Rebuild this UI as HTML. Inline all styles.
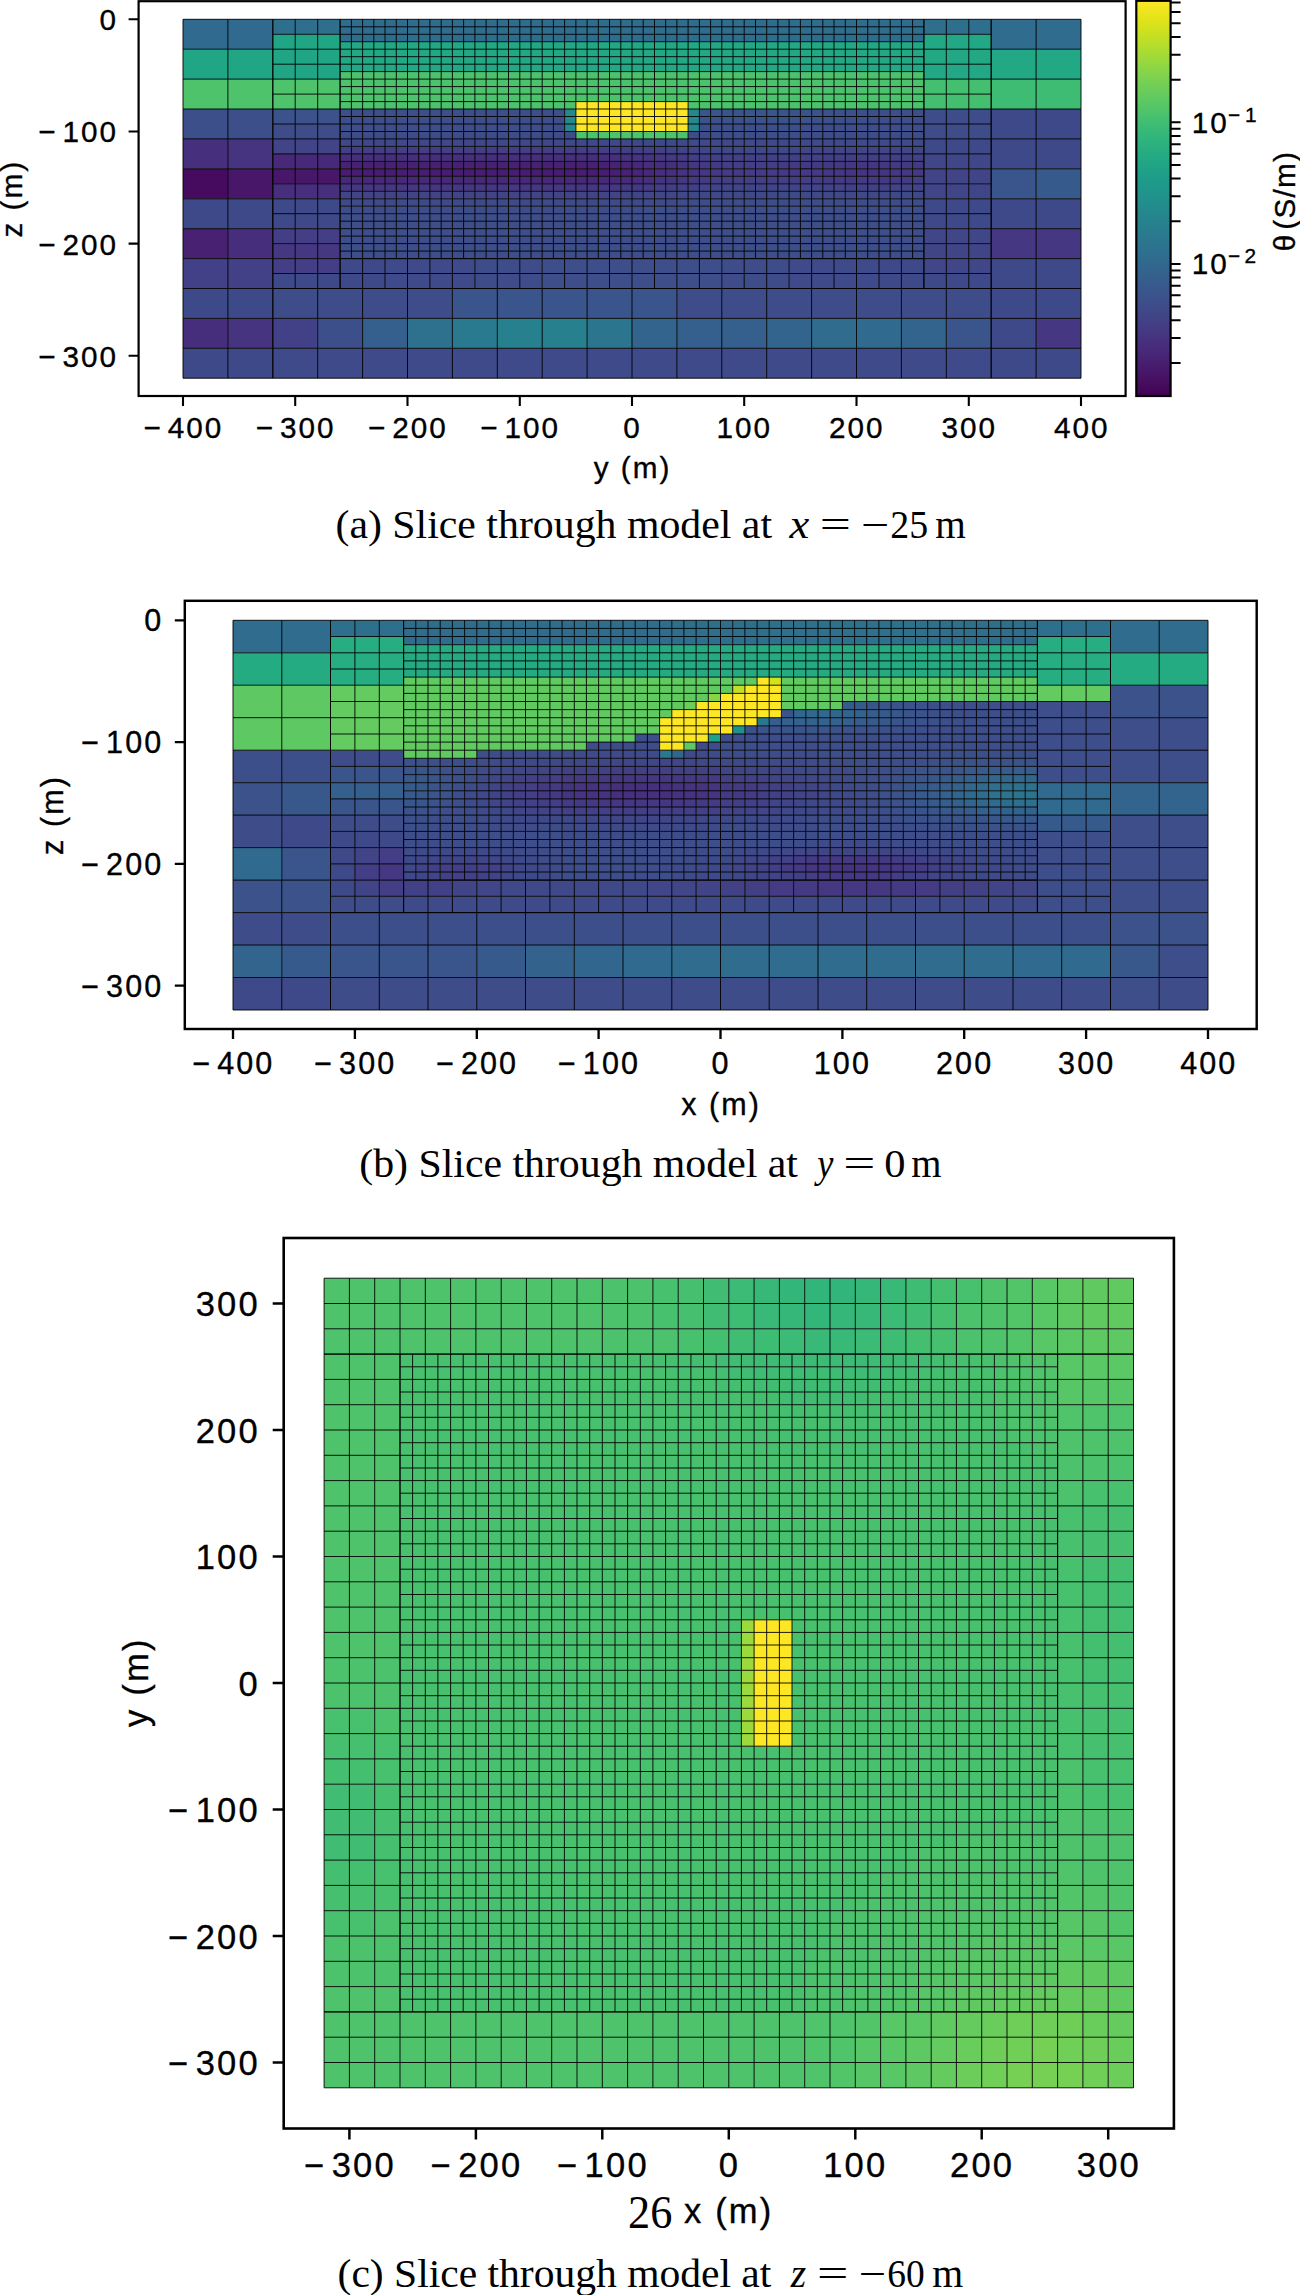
<!DOCTYPE html>
<html><head><meta charset="utf-8"><title>Model slices</title>
<style>html,body{margin:0;padding:0;background:#fff;overflow:hidden}svg{display:block}text{font-kerning:none}</style>
</head><body>
<svg width="1300" height="2295" viewBox="0 0 1300 2295">
<path fill="#306a8e" d="M183 19.3H272.8V49.2H183zM856.5 318.4H901.4V348.3H856.5z"/>
<path fill="#21a685" d="M183 49.2H272.8V79.1H183zM272.8 34.3H340.1V49.2H272.8zM272.8 49.2H340.1V64.2H272.8zM272.8 64.2H340.1V79.1H272.8z"/>
<path fill="#4ec36b" d="M183 79.1H272.8V109H183zM272.8 79.1H340.1V94.1H272.8zM272.8 94.1H340.1V109H272.8zM575.9 131.5H688.1V138.9H575.9z"/>
<path fill="#3c4f8a" d="M183 109H272.8V138.9H183zM317.7 318.4H362.6V348.3H317.7zM856.5 109H890.2V116.5H856.5zM845.3 116.5H879V124H845.3zM699.4 124H800.4V131.5H699.4z"/>
<path fill="#46307e" d="M183 138.9H227.9V168.8H183zM609.5 153.9H620.8V161.4H609.5zM665.7 161.4H676.9V168.8H665.7zM643.2 176.3H654.5V183.8H643.2z"/>
<path fill="#463480" d="M227.9 138.9H272.8V168.8H227.9zM227.9 318.4H272.8V348.3H227.9zM632 153.9H643.2V161.4H632zM676.9 161.4H688.1V168.8H676.9zM688.1 168.8H699.4V176.3H688.1z"/>
<path fill="#460b5e" d="M183 168.8H227.9V198.8H183z"/>
<path fill="#481769" d="M227.9 168.8H272.8V198.8H227.9zM272.8 168.8H340.1V183.8H272.8z"/>
<path fill="#3e4989" d="M183 198.8H272.8V228.7H183zM183 288.5H272.8V318.4H183zM183 348.3H272.8V378.2H183zM991.2 109H1081V138.9H991.2zM991.2 138.9H1081V168.8H991.2zM991.2 198.8H1081V228.7H991.2zM991.2 258.6H1081V288.5H991.2zM991.2 288.5H1081V318.4H991.2zM991.2 318.4H1036.1V348.3H991.2zM991.2 348.3H1081V378.2H991.2zM272.8 198.8H340.1V213.7H272.8zM272.8 213.7H340.1V228.7H272.8zM272.8 273.5H340.1V288.5H272.8zM923.9 138.9H991.2V153.9H923.9zM923.9 198.8H991.2V213.7H923.9zM923.9 213.7H991.2V228.7H923.9zM923.9 273.5H991.2V288.5H923.9zM643.2 138.9H688.1V146.4H643.2zM699.4 191.3H845.3V198.8H699.4zM890.2 191.3H923.9V198.8H890.2zM340.1 258.6H385V273.5H340.1zM879 258.6H923.9V273.5H879zM340.1 273.5H385V288.5H340.1zM879 273.5H923.9V288.5H879z"/>
<path fill="#482173" d="M183 228.7H227.9V258.6H183zM340.1 161.4H609.5V168.8H340.1z"/>
<path fill="#472e7c" d="M227.9 228.7H272.8V258.6H227.9zM183 318.4H227.9V348.3H183zM654.5 161.4H665.7V168.8H654.5zM632 176.3H643.2V183.8H632z"/>
<path fill="#424086" d="M183 258.6H272.8V288.5H183zM272.8 318.4H317.7V348.3H272.8zM632 146.4H643.2V153.9H632zM800.4 153.9H822.8V161.4H800.4zM912.6 153.9H923.9V161.4H912.6zM676.9 183.8H688.1V191.3H676.9z"/>
<path fill="#2f6c8e" d="M991.2 19.3H1081V49.2H991.2zM811.6 318.4H856.5V348.3H811.6z"/>
<path fill="#22a884" d="M991.2 49.2H1081V79.1H991.2zM923.9 34.3H991.2V49.2H923.9zM923.9 49.2H991.2V64.2H923.9zM923.9 64.2H991.2V79.1H923.9zM340.1 41.7H923.9V49.2H340.1zM340.1 49.2H923.9V56.7H340.1zM340.1 56.7H923.9V64.2H340.1zM340.1 64.2H923.9V71.6H340.1z"/>
<path fill="#3fbc73" d="M991.2 79.1H1081V109H991.2z"/>
<path fill="#3a548c" d="M991.2 168.8H1036.1V198.8H991.2zM452.4 288.5H676.9V318.4H452.4zM946.3 318.4H991.2V348.3H946.3zM699.4 109H721.8V116.5H699.4zM766.7 109H789.1V116.5H766.7z"/>
<path fill="#375a8c" d="M1036.1 168.8H1081V198.8H1036.1z"/>
<path fill="#453781" d="M991.2 228.7H1081V258.6H991.2zM1036.1 318.4H1081V348.3H1036.1zM272.8 243.6H340.1V258.6H272.8zM654.5 153.9H665.7V161.4H654.5zM688.1 161.4H699.4V168.8H688.1zM845.3 161.4H890.2V168.8H845.3zM699.4 168.8H710.6V176.3H699.4zM822.8 168.8H845.3V176.3H822.8zM890.2 168.8H912.6V176.3H890.2zM676.9 176.3H688.1V183.8H676.9zM340.1 183.8H620.8V191.3H340.1z"/>
<path fill="#2e6f8e" d="M272.8 19.3H340.1V34.3H272.8zM923.9 19.3H991.2V34.3H923.9z"/>
<path fill="#3b528b" d="M272.8 109H340.1V124H272.8zM811.6 109H834V116.5H811.6zM789.1 116.5H811.6V124H789.1z"/>
<path fill="#3e4c8a" d="M272.8 124H340.1V138.9H272.8zM923.9 109H991.2V124H923.9zM923.9 124H991.2V138.9H923.9zM272.8 288.5H452.4V318.4H272.8zM676.9 288.5H991.2V318.4H676.9zM340.1 131.5H575.9V138.9H340.1zM688.1 131.5H710.6V138.9H688.1zM800.4 131.5H923.9V138.9H800.4zM676.9 198.8H923.9V206.2H676.9zM340.1 206.2H643.2V213.7H340.1zM474.9 258.6H542.2V273.5H474.9zM721.8 258.6H789.1V273.5H721.8zM474.9 273.5H542.2V288.5H474.9zM721.8 273.5H789.1V288.5H721.8z"/>
<path fill="#414487" d="M272.8 138.9H340.1V153.9H272.8zM923.9 168.8H991.2V183.8H923.9zM665.7 146.4H676.9V153.9H665.7zM699.4 183.8H710.6V191.3H699.4zM800.4 183.8H845.3V191.3H800.4zM890.2 183.8H923.9V191.3H890.2zM340.1 191.3H620.8V198.8H340.1z"/>
<path fill="#482878" d="M272.8 153.9H340.1V168.8H272.8zM340.1 176.3H609.5V183.8H340.1z"/>
<path fill="#472f7d" d="M272.8 183.8H340.1V198.8H272.8zM340.1 153.9H609.5V161.4H340.1zM665.7 168.8H676.9V176.3H665.7z"/>
<path fill="#433e85" d="M272.8 228.7H340.1V243.6H272.8zM272.8 258.6H340.1V273.5H272.8zM340.1 146.4H609.5V153.9H340.1zM688.1 153.9H699.4V161.4H688.1zM721.8 161.4H777.9V168.8H721.8zM800.4 176.3H822.8V183.8H800.4zM912.6 176.3H923.9V183.8H912.6zM654.5 183.8H665.7V191.3H654.5z"/>
<path fill="#44bf70" d="M923.9 79.1H991.2V94.1H923.9zM923.9 94.1H991.2V109H923.9z"/>
<path fill="#404688" d="M923.9 153.9H991.2V168.8H923.9zM923.9 228.7H991.2V243.6H923.9zM923.9 258.6H991.2V273.5H923.9zM699.4 146.4H710.6V153.9H699.4zM800.4 146.4H923.9V153.9H800.4zM643.2 191.3H676.9V198.8H643.2z"/>
<path fill="#404588" d="M923.9 183.8H991.2V198.8H923.9zM923.9 243.6H991.2V258.6H923.9zM676.9 146.4H699.4V153.9H676.9zM710.6 183.8H800.4V191.3H710.6zM620.8 191.3H643.2V198.8H620.8z"/>
<path fill="#355f8d" d="M362.6 318.4H407.5V348.3H362.6zM676.9 318.4H766.7V348.3H676.9z"/>
<path fill="#2d718e" d="M407.5 318.4H452.4V348.3H407.5z"/>
<path fill="#297a8e" d="M452.4 318.4H497.3V348.3H452.4z"/>
<path fill="#27808e" d="M497.3 318.4H587.1V348.3H497.3z"/>
<path fill="#2b758e" d="M587.1 318.4H632V348.3H587.1z"/>
<path fill="#32648e" d="M632 318.4H676.9V348.3H632zM766.7 318.4H811.6V348.3H766.7zM901.4 318.4H946.3V348.3H901.4z"/>
<path fill="#3e4a89" d="M272.8 348.3H991.2V378.2H272.8zM688.1 138.9H923.9V146.4H688.1zM340.1 198.8H676.9V206.2H340.1zM385 258.6H474.9V273.5H385zM789.1 258.6H879V273.5H789.1zM385 273.5H474.9V288.5H385zM789.1 273.5H879V288.5H789.1z"/>
<path fill="#2e6d8e" d="M340.1 19.3H923.9V26.8H340.1zM340.1 26.8H923.9V34.3H340.1zM340.1 34.3H923.9V41.7H340.1z"/>
<path fill="#4cc26c" d="M340.1 71.6H923.9V79.1H340.1zM340.1 79.1H923.9V86.6H340.1zM340.1 86.6H923.9V94.1H340.1zM340.1 94.1H923.9V101.6H340.1zM340.1 101.6H575.9V109H340.1zM688.1 101.6H923.9V109H688.1z"/>
<path fill="#fde725" d="M575.9 101.6H688.1V109H575.9zM575.9 109H688.1V116.5H575.9zM575.9 116.5H688.1V124H575.9zM575.9 124H688.1V131.5H575.9z"/>
<path fill="#3d4e8a" d="M340.1 109H564.6V116.5H340.1zM890.2 109H923.9V116.5H890.2zM340.1 116.5H564.6V124H340.1zM879 116.5H923.9V124H879zM340.1 124H564.6V131.5H340.1zM800.4 124H923.9V131.5H800.4zM710.6 131.5H800.4V138.9H710.6zM643.2 206.2H923.9V213.7H643.2zM340.1 213.7H923.9V221.2H340.1zM340.1 221.2H923.9V228.7H340.1zM340.1 228.7H923.9V236.1H340.1zM340.1 236.1H923.9V243.6H340.1zM340.1 243.6H923.9V251.1H340.1zM340.1 251.1H923.9V258.6H340.1zM542.2 258.6H721.8V273.5H542.2zM542.2 273.5H721.8V288.5H542.2z"/>
<path fill="#23898e" d="M564.6 109H575.9V116.5H564.6zM688.1 109H699.4V116.5H688.1zM564.6 116.5H575.9V124H564.6zM688.1 116.5H699.4V124H688.1zM564.6 124H575.9V131.5H564.6zM688.1 124H699.4V131.5H688.1z"/>
<path fill="#39558c" d="M721.8 109H766.7V116.5H721.8z"/>
<path fill="#3a538b" d="M789.1 109H811.6V116.5H789.1zM699.4 116.5H789.1V124H699.4z"/>
<path fill="#3c508b" d="M834 109H856.5V116.5H834zM811.6 116.5H845.3V124H811.6z"/>
<path fill="#3f4889" d="M340.1 138.9H643.2V146.4H340.1zM710.6 146.4H800.4V153.9H710.6zM676.9 191.3H699.4V198.8H676.9zM845.3 191.3H890.2V198.8H845.3z"/>
<path fill="#423f85" d="M609.5 146.4H632V153.9H609.5zM699.4 153.9H710.6V161.4H699.4zM822.8 153.9H912.6V161.4H822.8zM710.6 176.3H800.4V183.8H710.6zM665.7 183.8H676.9V191.3H665.7z"/>
<path fill="#424186" d="M643.2 146.4H665.7V153.9H643.2zM710.6 153.9H800.4V161.4H710.6zM688.1 183.8H699.4V191.3H688.1zM845.3 183.8H890.2V191.3H845.3z"/>
<path fill="#46337f" d="M620.8 153.9H632V161.4H620.8zM676.9 168.8H688.1V176.3H676.9zM654.5 176.3H665.7V183.8H654.5z"/>
<path fill="#453581" d="M643.2 153.9H654.5V161.4H643.2zM845.3 168.8H890.2V176.3H845.3zM665.7 176.3H676.9V183.8H665.7z"/>
<path fill="#443a83" d="M665.7 153.9H676.9V161.4H665.7zM800.4 161.4H822.8V168.8H800.4zM912.6 161.4H923.9V168.8H912.6zM710.6 168.8H721.8V176.3H710.6zM777.9 168.8H811.6V176.3H777.9zM688.1 176.3H699.4V183.8H688.1zM845.3 176.3H890.2V183.8H845.3zM632 183.8H643.2V191.3H632z"/>
<path fill="#443b84" d="M676.9 153.9H688.1V161.4H676.9zM710.6 161.4H721.8V168.8H710.6zM777.9 161.4H800.4V168.8H777.9zM721.8 168.8H777.9V176.3H721.8zM699.4 176.3H710.6V183.8H699.4zM822.8 176.3H845.3V183.8H822.8zM890.2 176.3H912.6V183.8H890.2zM643.2 183.8H654.5V191.3H643.2z"/>
<path fill="#482374" d="M609.5 161.4H620.8V168.8H609.5zM620.8 168.8H632V176.3H620.8z"/>
<path fill="#482576" d="M620.8 161.4H632V168.8H620.8zM632 168.8H643.2V176.3H632z"/>
<path fill="#482979" d="M632 161.4H643.2V168.8H632zM643.2 168.8H654.5V176.3H643.2zM609.5 176.3H620.8V183.8H609.5z"/>
<path fill="#472d7b" d="M643.2 161.4H654.5V168.8H643.2zM654.5 168.8H665.7V176.3H654.5z"/>
<path fill="#443983" d="M699.4 161.4H710.6V168.8H699.4zM822.8 161.4H845.3V168.8H822.8zM890.2 161.4H912.6V168.8H890.2zM811.6 168.8H822.8V176.3H811.6zM912.6 168.8H923.9V176.3H912.6zM620.8 183.8H632V191.3H620.8z"/>
<path fill="#481d6f" d="M340.1 168.8H609.5V176.3H340.1z"/>
<path fill="#481f70" d="M609.5 168.8H620.8V176.3H609.5z"/>
<path fill="#472a7a" d="M620.8 176.3H632V183.8H620.8z"/>
<path fill="none" stroke="#000" stroke-width="0.9" d="M183 19.3V378.2M227.9 19.3V378.2M272.8 19.3V378.2M183 19.3H272.8M183 49.2H272.8M183 79.1H272.8M183 109H272.8M183 138.9H272.8M183 168.8H272.8M183 198.8H272.8M183 228.7H272.8M183 258.6H272.8M183 288.5H272.8M183 318.4H272.8M183 348.3H272.8M183 378.2H272.8M991.2 19.3V378.2M1036.1 19.3V378.2M1081 19.3V378.2M991.2 19.3H1081M991.2 49.2H1081M991.2 79.1H1081M991.2 109H1081M991.2 138.9H1081M991.2 168.8H1081M991.2 198.8H1081M991.2 228.7H1081M991.2 258.6H1081M991.2 288.5H1081M991.2 318.4H1081M991.2 348.3H1081M991.2 378.2H1081M272.8 19.3V288.5M295.2 19.3V288.5M317.7 19.3V288.5M340.1 19.3V288.5M272.8 19.3H340.1M272.8 34.3H340.1M272.8 49.2H340.1M272.8 64.2H340.1M272.8 79.1H340.1M272.8 94.1H340.1M272.8 109H340.1M272.8 124H340.1M272.8 138.9H340.1M272.8 153.9H340.1M272.8 168.8H340.1M272.8 183.8H340.1M272.8 198.8H340.1M272.8 213.7H340.1M272.8 228.7H340.1M272.8 243.6H340.1M272.8 258.6H340.1M272.8 273.5H340.1M272.8 288.5H340.1M923.9 19.3V288.5M946.3 19.3V288.5M968.8 19.3V288.5M991.2 19.3V288.5M923.9 19.3H991.2M923.9 34.3H991.2M923.9 49.2H991.2M923.9 64.2H991.2M923.9 79.1H991.2M923.9 94.1H991.2M923.9 109H991.2M923.9 124H991.2M923.9 138.9H991.2M923.9 153.9H991.2M923.9 168.8H991.2M923.9 183.8H991.2M923.9 198.8H991.2M923.9 213.7H991.2M923.9 228.7H991.2M923.9 243.6H991.2M923.9 258.6H991.2M923.9 273.5H991.2M923.9 288.5H991.2M272.8 288.5V378.2M317.7 288.5V378.2M362.6 288.5V378.2M407.5 288.5V378.2M452.4 288.5V378.2M497.3 288.5V378.2M542.2 288.5V378.2M587.1 288.5V378.2M632 288.5V378.2M676.9 288.5V378.2M721.8 288.5V378.2M766.7 288.5V378.2M811.6 288.5V378.2M856.5 288.5V378.2M901.4 288.5V378.2M946.3 288.5V378.2M991.2 288.5V378.2M272.8 288.5H991.2M272.8 318.4H991.2M272.8 348.3H991.2M272.8 378.2H991.2M340.1 19.3V258.6M351.4 19.3V258.6M362.6 19.3V258.6M373.8 19.3V258.6M385 19.3V258.6M396.3 19.3V258.6M407.5 19.3V258.6M418.7 19.3V258.6M429.9 19.3V258.6M441.2 19.3V258.6M452.4 19.3V258.6M463.6 19.3V258.6M474.9 19.3V258.6M486.1 19.3V258.6M497.3 19.3V258.6M508.5 19.3V258.6M519.8 19.3V258.6M531 19.3V258.6M542.2 19.3V258.6M553.4 19.3V258.6M564.6 19.3V258.6M575.9 19.3V258.6M587.1 19.3V258.6M598.3 19.3V258.6M609.5 19.3V258.6M620.8 19.3V258.6M632 19.3V258.6M643.2 19.3V258.6M654.5 19.3V258.6M665.7 19.3V258.6M676.9 19.3V258.6M688.1 19.3V258.6M699.4 19.3V258.6M710.6 19.3V258.6M721.8 19.3V258.6M733 19.3V258.6M744.2 19.3V258.6M755.5 19.3V258.6M766.7 19.3V258.6M777.9 19.3V258.6M789.1 19.3V258.6M800.4 19.3V258.6M811.6 19.3V258.6M822.8 19.3V258.6M834 19.3V258.6M845.3 19.3V258.6M856.5 19.3V258.6M867.7 19.3V258.6M879 19.3V258.6M890.2 19.3V258.6M901.4 19.3V258.6M912.6 19.3V258.6M923.9 19.3V258.6M340.1 19.3H923.9M340.1 26.8H923.9M340.1 34.3H923.9M340.1 41.7H923.9M340.1 49.2H923.9M340.1 56.7H923.9M340.1 64.2H923.9M340.1 71.6H923.9M340.1 79.1H923.9M340.1 86.6H923.9M340.1 94.1H923.9M340.1 101.6H923.9M340.1 109H923.9M340.1 116.5H923.9M340.1 124H923.9M340.1 131.5H923.9M340.1 138.9H923.9M340.1 146.4H923.9M340.1 153.9H923.9M340.1 161.4H923.9M340.1 168.8H923.9M340.1 176.3H923.9M340.1 183.8H923.9M340.1 191.3H923.9M340.1 198.8H923.9M340.1 206.2H923.9M340.1 213.7H923.9M340.1 221.2H923.9M340.1 228.7H923.9M340.1 236.1H923.9M340.1 243.6H923.9M340.1 251.1H923.9M340.1 258.6H923.9M340.1 258.6V288.5M362.6 258.6V288.5M385 258.6V288.5M407.5 258.6V288.5M429.9 258.6V288.5M452.4 258.6V288.5M474.9 258.6V288.5M497.3 258.6V288.5M519.8 258.6V288.5M542.2 258.6V288.5M564.6 258.6V288.5M587.1 258.6V288.5M609.5 258.6V288.5M632 258.6V288.5M654.5 258.6V288.5M676.9 258.6V288.5M699.4 258.6V288.5M721.8 258.6V288.5M744.2 258.6V288.5M766.7 258.6V288.5M789.1 258.6V288.5M811.6 258.6V288.5M834 258.6V288.5M856.5 258.6V288.5M879 258.6V288.5M901.4 258.6V288.5M923.9 258.6V288.5M340.1 258.6H923.9M340.1 273.5H923.9M340.1 288.5H923.9"/>
<rect x="138.6" y="1.2" width="987" height="394.8" fill="none" stroke="#000" stroke-width="2.2"/>
<path stroke="#000" stroke-width="2.09" d="M183 396V406M295.2 396V406M407.5 396V406M519.8 396V406M632 396V406M744.2 396V406M856.5 396V406M968.8 396V406M1081 396V406M138.6 19.3H128.6M138.6 131.5H128.6M138.6 243.6H128.6M138.6 355.8H128.6"/>
<g font-family="Liberation Sans, Arial, sans-serif" font-size="29.7" letter-spacing="2.0" stroke="#000" stroke-width="0.35">
<text x="143.5" y="438.3">−<tspan dx="4.8">400</tspan></text>
<text x="255.75" y="438.3">−<tspan dx="4.8">300</tspan></text>
<text x="368" y="438.3">−<tspan dx="4.8">200</tspan></text>
<text x="480.25" y="438.3">−<tspan dx="4.8">100</tspan></text>
<text x="623.24" y="438.3">0</text>
<text x="716.42" y="438.3">100</text>
<text x="829.06" y="438.3">200</text>
<text x="941.49" y="438.3">300</text>
<text x="1053.96" y="438.3">400</text>
<text x="99.44" y="30.22">0</text>
<text x="38.26" y="142.38">−<tspan dx="4.8">100</tspan></text>
<text x="38.26" y="254.54">−<tspan dx="4.8">200</tspan></text>
<text x="38.26" y="366.7">−<tspan dx="4.8">300</tspan></text>
<text x="593.73" y="477.7">y (m)</text>
<text transform="translate(21.5 200) rotate(-90)" x="-37.49">z (m)</text>
</g>
<defs><linearGradient id="cb" x1="0" y1="0" x2="0" y2="1"><stop offset="0%" stop-color="#fde725"/><stop offset="5%" stop-color="#dfe318"/><stop offset="10%" stop-color="#bddf26"/><stop offset="15%" stop-color="#9bd93c"/><stop offset="20%" stop-color="#7ad151"/><stop offset="25%" stop-color="#5ec962"/><stop offset="30%" stop-color="#44bf70"/><stop offset="35%" stop-color="#2fb47c"/><stop offset="40%" stop-color="#22a884"/><stop offset="45%" stop-color="#1e9c89"/><stop offset="50%" stop-color="#21918c"/><stop offset="55%" stop-color="#25848e"/><stop offset="60%" stop-color="#2a788e"/><stop offset="65%" stop-color="#2f6c8e"/><stop offset="70%" stop-color="#355f8d"/><stop offset="75%" stop-color="#3b528b"/><stop offset="80%" stop-color="#414487"/><stop offset="85%" stop-color="#463480"/><stop offset="90%" stop-color="#482475"/><stop offset="95%" stop-color="#471365"/><stop offset="100%" stop-color="#440154"/></linearGradient></defs>
<rect x="1136.3" y="0.8" width="34.3" height="395.2" fill="url(#cb)" stroke="#000" stroke-width="2.2"/>
<path stroke="#000" stroke-width="2" d="M1170.6 122.3H1180.6M1170.6 79.7H1180.6M1170.6 54.7H1180.6M1170.6 37H1180.6M1170.6 23.3H1180.6M1170.6 12.1H1180.6M1170.6 2.6H1180.6M1170.6 263.9H1180.6M1170.6 221.3H1180.6M1170.6 196.3H1180.6M1170.6 178.6H1180.6M1170.6 164.9H1180.6M1170.6 153.7H1180.6M1170.6 144.2H1180.6M1170.6 136H1180.6M1170.6 128.8H1180.6M1170.6 362.9H1180.6M1170.6 337.9H1180.6M1170.6 320.2H1180.6M1170.6 306.5H1180.6M1170.6 295.3H1180.6M1170.6 285.8H1180.6M1170.6 277.6H1180.6M1170.6 270.4H1180.6"/>
<g font-family="Liberation Sans, Arial, sans-serif" stroke="#000" stroke-width="0.35">
<text x="1191.64" y="132.7" font-size="29.7" letter-spacing="2.0">10</text>
<text x="1227.97" y="121.9" font-size="20.8">−</text>
<text x="1244.92" y="121.9" font-size="20.8">1</text>
<text x="1191.64" y="274" font-size="29.7" letter-spacing="2.0">10</text>
<text x="1227.97" y="262.7" font-size="20.8">−</text>
<text x="1244.55" y="262.7" font-size="20.8">2</text>
<text transform="translate(1294.6 201.75) rotate(-90)" x="-49.42" font-size="29.7" letter-spacing="1.3">θ<tspan dx="-6"> (S/m)</tspan></text>
</g>
<g font-family="Liberation Serif, Times New Roman, serif" font-size="40">
<text x="335.46" y="538.1" textLength="436.58" lengthAdjust="spacingAndGlyphs">(a) Slice through model at</text>
<text x="789.64" y="538.1" textLength="19.78" lengthAdjust="spacingAndGlyphs" font-style="italic">x</text>
<text x="819.85" y="538.1" textLength="31.15" lengthAdjust="spacingAndGlyphs">=</text>
<text x="861.11" y="538.1" textLength="28.24" lengthAdjust="spacingAndGlyphs">−</text>
<text x="890.34" y="538.1" textLength="37.84" lengthAdjust="spacingAndGlyphs">25</text>
<text x="935.18" y="538.1" textLength="30.54" lengthAdjust="spacingAndGlyphs">m</text>
</g>
<path fill="#2f6c8e" d="M233 620.3H330.5V652.8H233zM1110.5 620.3H1208V652.8H1110.5zM671.8 945H1013V977.5H671.8z"/>
<path fill="#25ab82" d="M233 652.8H330.5V685.2H233zM1110.5 652.8H1208V685.2H1110.5zM403.6 644.7H1037.4V652.8H403.6zM403.6 652.8H1037.4V660.9H403.6zM403.6 660.9H1037.4V669H403.6zM403.6 669H1037.4V677.1H403.6z"/>
<path fill="#5ec962" d="M233 685.2H330.5V717.7H233zM233 717.7H330.5V750.2H233zM683.9 742.1H696.1V750.2H683.9z"/>
<path fill="#3c4f8a" d="M233 750.2H330.5V782.7H233zM330.5 912.6H1110.5V945H330.5zM927.7 701.5H952.1V709.6H927.7zM939.9 709.6H964.2V717.7H939.9zM939.9 717.7H964.2V725.8H939.9zM903.3 725.8H927.7V734H903.3zM805.8 734H842.4V742.1H805.8zM927.7 750.2H1037.4V758.3H927.7zM440.2 758.3H464.6V766.4H440.2zM903.3 758.3H927.7V766.4H903.3zM452.4 766.4H464.6V774.6H452.4zM891.1 766.4H903.3V774.6H891.1zM452.4 774.6H464.6V782.7H452.4zM878.9 774.6H891.1V782.7H878.9zM452.4 782.7H464.6V790.8H452.4zM878.9 782.7H891.1V790.8H878.9zM452.4 790.8H464.6V798.9H452.4zM878.9 798.9H891.1V807H878.9zM440.2 807H452.4V815.1H440.2zM878.9 807H891.1V815.1H878.9zM415.8 815.1H440.2V823.3H415.8zM891.1 815.1H903.3V823.3H891.1zM403.6 823.3H415.8V831.4H403.6zM903.3 823.3H952.1V831.4H903.3zM964.2 831.4H1037.4V839.5H964.2z"/>
<path fill="#3b528b" d="M233 782.7H281.8V815.1H233zM233 880.1H330.5V912.6H233zM1110.5 685.2H1208V717.7H1110.5zM1110.5 912.6H1208V945H1110.5zM903.3 701.5H915.5V709.6H903.3zM781.4 709.6H793.6V717.7H781.4zM915.5 709.6H927.7V717.7H915.5zM915.5 717.7H927.7V725.8H915.5zM757.1 725.8H781.4V734H757.1zM854.6 725.8H878.9V734H854.6zM403.6 758.3H428V766.4H403.6zM952.1 758.3H976.4V766.4H952.1zM915.5 766.4H927.7V774.6H915.5zM440.2 774.6H452.4V782.7H440.2zM440.2 782.7H452.4V790.8H440.2zM891.1 782.7H903.3V790.8H891.1zM440.2 790.8H452.4V798.9H440.2zM891.1 798.9H903.3V807H891.1zM403.6 807H428V815.1H403.6zM903.3 807H915.5V815.1H903.3zM927.7 815.1H939.9V823.3H927.7zM988.6 823.3H1037.4V831.4H988.6z"/>
<path fill="#38588c" d="M281.8 782.7H330.5V815.1H281.8zM1110.5 945H1159.2V977.5H1110.5zM891.1 709.6H903.3V717.7H891.1zM878.9 717.7H891.1V725.8H878.9zM415.8 774.6H428V782.7H415.8zM927.7 774.6H939.9V782.7H927.7zM415.8 790.8H428V798.9H415.8zM915.5 798.9H927.7V807H915.5zM988.6 815.1H1000.8V823.3H988.6z"/>
<path fill="#3e4c8a" d="M233 815.1H281.8V847.6H233zM233 912.6H330.5V945H233zM1159.2 977.5H1208V1010H1159.2zM330.5 750.2H403.6V766.4H330.5zM330.5 815.1H403.6V831.4H330.5zM330.5 896.3H403.6V912.6H330.5zM330.5 977.5H1110.5V1010H330.5zM586.4 742.1H659.6V750.2H586.4zM696.1 742.1H720.5V750.2H696.1zM488.9 750.2H562.1V758.3H488.9zM720.5 750.2H818V758.3H720.5zM476.8 758.3H501.1V766.4H476.8zM805.8 758.3H854.6V766.4H805.8zM842.4 766.4H866.7V774.6H842.4zM464.6 774.6H476.8V782.7H464.6zM854.6 774.6H866.7V782.7H854.6zM854.6 782.7H866.7V790.8H854.6zM854.6 790.8H866.7V798.9H854.6zM854.6 798.9H866.7V807H854.6zM464.6 807H476.8V815.1H464.6zM842.4 807H866.7V815.1H842.4zM464.6 815.1H488.9V823.3H464.6zM805.8 815.1H854.6V823.3H805.8zM476.8 823.3H562.1V831.4H476.8zM720.5 823.3H818V831.4H720.5zM562.1 831.4H744.9V839.5H562.1zM415.8 839.5H525.5V847.6H415.8zM732.7 839.5H818V847.6H732.7zM891.1 839.5H952.1V847.6H891.1zM403.6 847.6H415.8V855.7H403.6zM513.3 847.6H549.9V855.7H513.3zM683.9 847.6H732.7V855.7H683.9zM976.4 847.6H1013V855.7H976.4zM537.7 855.7H562.1V863.9H537.7zM659.6 855.7H696.1V863.9H659.6zM1013 855.7H1037.4V863.9H1013zM549.9 863.9H574.3V872H549.9zM659.6 863.9H696.1V872H659.6zM1013 863.9H1037.4V872H1013zM549.9 872H562.1V880.1H549.9zM671.8 872H696.1V880.1H671.8zM1013 872H1037.4V880.1H1013z"/>
<path fill="#3e4989" d="M281.8 815.1H330.5V847.6H281.8zM233 977.5H330.5V1010H233zM330.5 831.4H403.6V847.6H330.5zM330.5 847.6H354.9V863.9H330.5zM330.5 863.9H354.9V880.1H330.5zM330.5 880.1H354.9V896.3H330.5zM525.5 758.3H549.9V766.4H525.5zM732.7 758.3H769.2V766.4H732.7zM488.9 766.4H501.1V774.6H488.9zM793.6 766.4H818V774.6H793.6zM476.8 774.6H488.9V782.7H476.8zM830.2 774.6H842.4V782.7H830.2zM830.2 782.7H842.4V790.8H830.2zM830.2 790.8H842.4V798.9H830.2zM476.8 798.9H488.9V807H476.8zM830.2 798.9H842.4V807H830.2zM488.9 807H501.1V815.1H488.9zM793.6 807H818V815.1H793.6zM513.3 815.1H549.9V823.3H513.3zM732.7 815.1H769.2V823.3H732.7zM428 847.6H501.1V855.7H428zM757.1 847.6H769.2V855.7H757.1zM939.9 847.6H952.1V855.7H939.9zM403.6 855.7H415.8V863.9H403.6zM513.3 855.7H525.5V863.9H513.3zM720.5 855.7H732.7V863.9H720.5zM976.4 855.7H988.6V863.9H976.4zM525.5 863.9H537.7V872H525.5zM708.3 863.9H720.5V872H708.3zM988.6 863.9H1000.8V872H988.6zM525.5 872H537.7V880.1H525.5zM720.5 872H732.7V880.1H720.5zM976.4 872H988.6V880.1H976.4z"/>
<path fill="#306a8e" d="M233 847.6H281.8V880.1H233zM1037.4 782.7H1110.5V798.9H1037.4zM1037.4 798.9H1110.5V815.1H1037.4zM623 945H671.8V977.5H623zM1013 945H1110.5V977.5H1013zM964.2 790.8H976.4V798.9H964.2z"/>
<path fill="#3a548c" d="M281.8 847.6H330.5V880.1H281.8zM330.5 766.4H403.6V782.7H330.5zM330.5 798.9H403.6V815.1H330.5zM330.5 945H476.8V977.5H330.5zM878.9 701.5H891.1V709.6H878.9zM903.3 709.6H915.5V717.7H903.3zM891.1 717.7H903.3V725.8H891.1zM805.8 725.8H830.2V734H805.8zM403.6 766.4H428V774.6H403.6zM939.9 766.4H952.1V774.6H939.9zM428 774.6H440.2V782.7H428zM915.5 774.6H927.7V782.7H915.5zM903.3 782.7H915.5V790.8H903.3zM428 790.8H440.2V798.9H428zM415.8 798.9H428V807H415.8zM903.3 798.9H915.5V807H903.3zM952.1 815.1H964.2V823.3H952.1z"/>
<path fill="#32648e" d="M233 945H281.8V977.5H233zM1110.5 782.7H1208V815.1H1110.5zM842.4 709.6H854.6V717.7H842.4z"/>
<path fill="#375a8c" d="M281.8 945H330.5V977.5H281.8zM1037.4 815.1H1110.5V831.4H1037.4zM476.8 945H525.5V977.5H476.8zM842.4 701.5H854.6V709.6H842.4zM878.9 709.6H891.1V717.7H878.9zM866.7 717.7H878.9V725.8H866.7zM976.4 766.4H988.6V774.6H976.4zM939.9 774.6H952.1V782.7H939.9zM403.6 782.7H415.8V790.8H403.6zM927.7 798.9H939.9V807H927.7zM952.1 807H964.2V815.1H952.1z"/>
<path fill="#3d4e8a" d="M1110.5 717.7H1208V750.2H1110.5zM1110.5 750.2H1208V782.7H1110.5zM1110.5 815.1H1208V847.6H1110.5zM1110.5 847.6H1208V880.1H1110.5zM1110.5 880.1H1208V912.6H1110.5zM1159.2 945H1208V977.5H1159.2zM1110.5 977.5H1159.2V1010H1110.5zM1037.4 701.5H1110.5V717.7H1037.4zM1037.4 717.7H1110.5V734H1037.4zM1037.4 734H1110.5V750.2H1037.4zM1037.4 750.2H1110.5V766.4H1037.4zM1037.4 766.4H1110.5V782.7H1037.4zM1037.4 831.4H1110.5V847.6H1037.4zM1037.4 847.6H1110.5V863.9H1037.4zM1037.4 863.9H1110.5V880.1H1037.4zM1037.4 880.1H1110.5V896.3H1037.4zM1037.4 896.3H1110.5V912.6H1037.4zM952.1 701.5H1037.4V709.6H952.1zM964.2 709.6H1037.4V717.7H964.2zM964.2 717.7H1037.4V725.8H964.2zM927.7 725.8H1037.4V734H927.7zM635.2 734H659.6V742.1H635.2zM720.5 734H805.8V742.1H720.5zM842.4 734H1037.4V742.1H842.4zM720.5 742.1H1037.4V750.2H720.5zM476.8 750.2H488.9V758.3H476.8zM818 750.2H927.7V758.3H818zM464.6 758.3H476.8V766.4H464.6zM854.6 758.3H903.3V766.4H854.6zM464.6 766.4H476.8V774.6H464.6zM866.7 766.4H891.1V774.6H866.7zM866.7 774.6H878.9V782.7H866.7zM866.7 782.7H878.9V790.8H866.7zM866.7 790.8H878.9V798.9H866.7zM452.4 798.9H464.6V807H452.4zM866.7 798.9H878.9V807H866.7zM452.4 807H464.6V815.1H452.4zM866.7 807H878.9V815.1H866.7zM440.2 815.1H464.6V823.3H440.2zM854.6 815.1H891.1V823.3H854.6zM415.8 823.3H476.8V831.4H415.8zM818 823.3H903.3V831.4H818zM403.6 831.4H562.1V839.5H403.6zM744.9 831.4H964.2V839.5H744.9zM403.6 839.5H415.8V847.6H403.6zM525.5 839.5H732.7V847.6H525.5zM952.1 839.5H1037.4V847.6H952.1zM549.9 847.6H683.9V855.7H549.9zM1013 847.6H1037.4V855.7H1013zM562.1 855.7H659.6V863.9H562.1zM574.3 863.9H659.6V872H574.3zM562.1 872H671.8V880.1H562.1z"/>
<path fill="#2e6f8e" d="M330.5 620.3H403.6V636.5H330.5zM1037.4 620.3H1110.5V636.5H1037.4zM671.8 620.3H732.7V628.4H671.8zM1000.8 620.3H1037.4V628.4H1000.8zM671.8 628.4H732.7V636.5H671.8zM1000.8 628.4H1037.4V636.5H1000.8zM671.8 636.5H732.7V644.7H671.8zM1000.8 636.5H1037.4V644.7H1000.8zM988.6 782.7H1000.8V790.8H988.6zM1013 798.9H1037.4V807H1013z"/>
<path fill="#26ad81" d="M330.5 636.5H403.6V652.8H330.5zM330.5 652.8H403.6V669H330.5zM330.5 669H403.6V685.2H330.5zM1037.4 636.5H1110.5V652.8H1037.4zM1037.4 652.8H1110.5V669H1037.4zM1037.4 669H1110.5V685.2H1037.4z"/>
<path fill="#63cb5f" d="M330.5 685.2H403.6V701.5H330.5zM330.5 701.5H403.6V717.7H330.5zM330.5 717.7H403.6V734H330.5zM330.5 734H403.6V750.2H330.5zM1037.4 685.2H1110.5V701.5H1037.4z"/>
<path fill="#355f8d" d="M330.5 782.7H403.6V798.9H330.5zM781.4 717.7H793.6V725.8H781.4zM842.4 717.7H854.6V725.8H842.4zM939.9 782.7H952.1V790.8H939.9zM976.4 807H988.6V815.1H976.4z"/>
<path fill="#414487" d="M354.9 847.6H379.3V863.9H354.9zM354.9 880.1H379.3V896.3H354.9zM537.7 766.4H562.1V774.6H537.7zM720.5 766.4H744.9V774.6H720.5zM769.2 774.6H781.4V782.7H769.2zM793.6 782.7H805.8V790.8H793.6zM793.6 790.8H805.8V798.9H793.6zM501.1 798.9H513.3V807H501.1zM769.2 798.9H781.4V807H769.2zM537.7 807H562.1V815.1H537.7zM720.5 807H744.9V815.1H720.5zM452.4 855.7H476.8V863.9H452.4zM744.9 863.9H757.1V872H744.9zM952.1 863.9H964.2V872H952.1zM428 872H440.2V880.1H428zM488.9 872H501.1V880.1H488.9zM769.2 872H781.4V880.1H769.2zM927.7 872H939.9V880.1H927.7zM452.4 880.1H476.8V896.3H452.4zM696.1 880.1H720.5V896.3H696.1zM988.6 880.1H1013V896.3H988.6z"/>
<path fill="#433e85" d="M379.3 847.6H403.6V863.9H379.3zM354.9 863.9H379.3V880.1H354.9zM379.3 880.1H403.6V896.3H379.3zM549.9 774.6H562.1V782.7H549.9zM720.5 774.6H732.7V782.7H720.5zM525.5 782.7H537.7V790.8H525.5zM525.5 790.8H537.7V798.9H525.5zM549.9 798.9H562.1V807H549.9zM720.5 798.9H732.7V807H720.5zM793.6 855.7H805.8V863.9H793.6zM903.3 855.7H915.5V863.9H903.3zM805.8 872H818V880.1H805.8zM891.1 872H903.3V880.1H891.1z"/>
<path fill="#453781" d="M379.3 863.9H403.6V880.1H379.3zM598.6 774.6H683.9V782.7H598.6zM598.6 798.9H683.9V807H598.6zM805.8 863.9H818V872H805.8zM891.1 863.9H903.3V872H891.1zM818 880.1H891.1V896.3H818z"/>
<path fill="#33628d" d="M525.5 945H574.3V977.5H525.5zM854.6 709.6H866.7V717.7H854.6zM805.8 717.7H830.2V725.8H805.8zM952.1 798.9H964.2V807H952.1zM1000.8 807H1013V815.1H1000.8z"/>
<path fill="#31678e" d="M574.3 945H623V977.5H574.3zM793.6 709.6H805.8V717.7H793.6zM830.2 709.6H842.4V717.7H830.2zM671.8 750.2H683.9V758.3H671.8zM1000.8 774.6H1037.4V782.7H1000.8z"/>
<path fill="#2e6d8e" d="M403.6 620.3H671.8V628.4H403.6zM403.6 628.4H671.8V636.5H403.6zM403.6 636.5H671.8V644.7H403.6zM976.4 790.8H988.6V798.9H976.4zM1000.8 798.9H1013V807H1000.8z"/>
<path fill="#2d708e" d="M732.7 620.3H769.2V628.4H732.7zM964.2 620.3H1000.8V628.4H964.2zM732.7 628.4H769.2V636.5H732.7zM964.2 628.4H1000.8V636.5H964.2zM732.7 636.5H769.2V644.7H732.7zM964.2 636.5H1000.8V644.7H964.2zM1000.8 782.7H1013V790.8H1000.8z"/>
<path fill="#2d718e" d="M769.2 620.3H818V628.4H769.2zM915.5 620.3H964.2V628.4H915.5zM769.2 628.4H818V636.5H769.2zM915.5 628.4H964.2V636.5H915.5zM769.2 636.5H818V644.7H769.2zM915.5 636.5H964.2V644.7H915.5zM1013 782.7H1037.4V790.8H1013zM988.6 790.8H1000.8V798.9H988.6z"/>
<path fill="#2c728e" d="M818 620.3H915.5V628.4H818zM818 628.4H915.5V636.5H818zM818 636.5H915.5V644.7H818z"/>
<path fill="#60ca60" d="M403.6 677.1H757.1V685.2H403.6zM781.4 677.1H1037.4V685.2H781.4zM403.6 685.2H732.7V693.4H403.6zM781.4 685.2H1037.4V693.4H781.4zM403.6 693.4H708.3V701.5H403.6zM781.4 693.4H1037.4V701.5H781.4zM403.6 701.5H683.9V709.6H403.6zM781.4 701.5H842.4V709.6H781.4zM403.6 709.6H671.8V717.7H403.6zM403.6 717.7H659.6V725.8H403.6zM403.6 725.8H659.6V734H403.6zM403.6 734H635.2V742.1H403.6zM403.6 742.1H586.4V750.2H403.6zM403.6 750.2H476.8V758.3H403.6z"/>
<path fill="#fde725" d="M757.1 677.1H769.2V685.2H757.1zM744.9 685.2H781.4V693.4H744.9zM720.5 693.4H781.4V701.5H720.5zM696.1 701.5H781.4V709.6H696.1zM671.8 709.6H781.4V717.7H671.8zM659.6 717.7H757.1V725.8H659.6zM659.6 725.8H732.7V734H659.6zM659.6 734H708.3V742.1H659.6zM659.6 742.1H683.9V750.2H659.6z"/>
<path fill="#d2e21b" d="M769.2 677.1H781.4V685.2H769.2z"/>
<path fill="#c2df23" d="M732.7 685.2H744.9V693.4H732.7z"/>
<path fill="#86d549" d="M708.3 693.4H720.5V701.5H708.3z"/>
<path fill="#6ccd5a" d="M683.9 701.5H696.1V709.6H683.9z"/>
<path fill="#38598c" d="M854.6 701.5H866.7V709.6H854.6zM964.2 766.4H976.4V774.6H964.2zM403.6 774.6H415.8V782.7H403.6zM415.8 782.7H428V790.8H415.8zM915.5 782.7H927.7V790.8H915.5zM403.6 790.8H415.8V798.9H403.6zM915.5 790.8H927.7V798.9H915.5zM939.9 807H952.1V815.1H939.9zM1000.8 815.1H1037.4V823.3H1000.8z"/>
<path fill="#39558c" d="M866.7 701.5H878.9V709.6H866.7zM952.1 766.4H964.2V774.6H952.1zM428 782.7H440.2V790.8H428zM903.3 790.8H915.5V798.9H903.3zM403.6 798.9H415.8V807H403.6zM927.7 807H939.9V815.1H927.7zM964.2 815.1H988.6V823.3H964.2z"/>
<path fill="#3a538b" d="M891.1 701.5H903.3V709.6H891.1zM903.3 717.7H915.5V725.8H903.3zM781.4 725.8H805.8V734H781.4zM830.2 725.8H854.6V734H830.2zM976.4 758.3H1037.4V766.4H976.4zM428 766.4H440.2V774.6H428zM927.7 766.4H939.9V774.6H927.7zM903.3 774.6H915.5V782.7H903.3zM891.1 790.8H903.3V798.9H891.1zM428 798.9H440.2V807H428zM915.5 807H927.7V815.1H915.5zM939.9 815.1H952.1V823.3H939.9z"/>
<path fill="#3c508b" d="M915.5 701.5H927.7V709.6H915.5zM927.7 709.6H939.9V717.7H927.7zM927.7 717.7H939.9V725.8H927.7zM744.9 725.8H757.1V734H744.9zM878.9 725.8H903.3V734H878.9zM428 758.3H440.2V766.4H428zM927.7 758.3H952.1V766.4H927.7zM440.2 766.4H452.4V774.6H440.2zM903.3 766.4H915.5V774.6H903.3zM891.1 774.6H903.3V782.7H891.1zM878.9 790.8H891.1V798.9H878.9zM440.2 798.9H452.4V807H440.2zM428 807H440.2V815.1H428zM891.1 807H903.3V815.1H891.1zM403.6 815.1H415.8V823.3H403.6zM903.3 815.1H927.7V823.3H903.3zM952.1 823.3H988.6V831.4H952.1z"/>
<path fill="#31688e" d="M805.8 709.6H830.2V717.7H805.8zM964.2 782.7H976.4V790.8H964.2zM976.4 798.9H988.6V807H976.4z"/>
<path fill="#355e8d" d="M866.7 709.6H878.9V717.7H866.7zM952.1 774.6H964.2V782.7H952.1zM939.9 798.9H952.1V807H939.9z"/>
<path fill="#2a788e" d="M757.1 717.7H769.2V725.8H757.1zM659.6 750.2H671.8V758.3H659.6z"/>
<path fill="#365d8d" d="M769.2 717.7H781.4V725.8H769.2zM854.6 717.7H866.7V725.8H854.6zM1013 766.4H1037.4V774.6H1013zM927.7 790.8H939.9V798.9H927.7zM964.2 807H976.4V815.1H964.2z"/>
<path fill="#34618d" d="M793.6 717.7H805.8V725.8H793.6zM830.2 717.7H842.4V725.8H830.2zM964.2 774.6H976.4V782.7H964.2zM939.9 790.8H952.1V798.9H939.9zM988.6 807H1000.8V815.1H988.6z"/>
<path fill="#21918c" d="M732.7 725.8H744.9V734H732.7z"/>
<path fill="#1fa188" d="M708.3 734H720.5V742.1H708.3z"/>
<path fill="#3e4a89" d="M562.1 750.2H659.6V758.3H562.1zM683.9 750.2H720.5V758.3H683.9zM501.1 758.3H525.5V766.4H501.1zM769.2 758.3H805.8V766.4H769.2zM476.8 766.4H488.9V774.6H476.8zM818 766.4H842.4V774.6H818zM842.4 774.6H854.6V782.7H842.4zM464.6 782.7H476.8V790.8H464.6zM842.4 782.7H854.6V790.8H842.4zM464.6 790.8H476.8V798.9H464.6zM842.4 790.8H854.6V798.9H842.4zM464.6 798.9H476.8V807H464.6zM842.4 798.9H854.6V807H842.4zM476.8 807H488.9V815.1H476.8zM818 807H842.4V815.1H818zM488.9 815.1H513.3V823.3H488.9zM769.2 815.1H805.8V823.3H769.2zM562.1 823.3H720.5V831.4H562.1zM818 839.5H891.1V847.6H818zM415.8 847.6H428V855.7H415.8zM501.1 847.6H513.3V855.7H501.1zM732.7 847.6H757.1V855.7H732.7zM952.1 847.6H976.4V855.7H952.1zM525.5 855.7H537.7V863.9H525.5zM696.1 855.7H720.5V863.9H696.1zM988.6 855.7H1013V863.9H988.6zM537.7 863.9H549.9V872H537.7zM696.1 863.9H708.3V872H696.1zM1000.8 863.9H1013V872H1000.8zM537.7 872H549.9V880.1H537.7zM696.1 872H720.5V880.1H696.1zM988.6 872H1013V880.1H988.6zM403.6 896.3H1037.4V912.6H403.6z"/>
<path fill="#3f4889" d="M549.9 758.3H586.4V766.4H549.9zM696.1 758.3H732.7V766.4H696.1zM501.1 766.4H513.3V774.6H501.1zM781.4 766.4H793.6V774.6H781.4zM805.8 774.6H830.2V782.7H805.8zM476.8 782.7H488.9V790.8H476.8zM476.8 790.8H488.9V798.9H476.8zM805.8 798.9H830.2V807H805.8zM501.1 807H513.3V815.1H501.1zM781.4 807H793.6V815.1H781.4zM549.9 815.1H586.4V823.3H549.9zM696.1 815.1H732.7V823.3H696.1zM769.2 847.6H793.6V855.7H769.2zM915.5 847.6H939.9V855.7H915.5zM415.8 855.7H428V863.9H415.8zM501.1 855.7H513.3V863.9H501.1zM732.7 855.7H744.9V863.9H732.7zM964.2 855.7H976.4V863.9H964.2zM403.6 863.9H415.8V872H403.6zM513.3 863.9H525.5V872H513.3zM720.5 863.9H732.7V872H720.5zM976.4 863.9H988.6V872H976.4zM403.6 872H415.8V880.1H403.6zM513.3 872H525.5V880.1H513.3zM732.7 872H744.9V880.1H732.7zM964.2 872H976.4V880.1H964.2zM501.1 880.1H647.4V896.3H501.1z"/>
<path fill="#404688" d="M586.4 758.3H696.1V766.4H586.4zM513.3 766.4H525.5V774.6H513.3zM757.1 766.4H781.4V774.6H757.1zM488.9 774.6H501.1V782.7H488.9zM793.6 774.6H805.8V782.7H793.6zM818 782.7H830.2V790.8H818zM818 790.8H830.2V798.9H818zM488.9 798.9H501.1V807H488.9zM793.6 798.9H805.8V807H793.6zM513.3 807H525.5V815.1H513.3zM757.1 807H781.4V815.1H757.1zM586.4 815.1H696.1V823.3H586.4zM793.6 847.6H818V855.7H793.6zM891.1 847.6H915.5V855.7H891.1zM428 855.7H440.2V863.9H428zM488.9 855.7H501.1V863.9H488.9zM744.9 855.7H757.1V863.9H744.9zM952.1 855.7H964.2V863.9H952.1zM732.7 863.9H744.9V872H732.7zM964.2 863.9H976.4V872H964.2zM415.8 872H428V880.1H415.8zM501.1 872H513.3V880.1H501.1zM744.9 872H757.1V880.1H744.9zM952.1 872H964.2V880.1H952.1zM476.8 880.1H501.1V896.3H476.8zM647.4 880.1H696.1V896.3H647.4zM1013 880.1H1037.4V896.3H1013z"/>
<path fill="#404588" d="M525.5 766.4H537.7V774.6H525.5zM744.9 766.4H757.1V774.6H744.9zM501.1 774.6H513.3V782.7H501.1zM781.4 774.6H793.6V782.7H781.4zM488.9 782.7H501.1V790.8H488.9zM805.8 782.7H818V790.8H805.8zM488.9 790.8H501.1V798.9H488.9zM805.8 790.8H818V798.9H805.8zM781.4 798.9H793.6V807H781.4zM525.5 807H537.7V815.1H525.5zM744.9 807H757.1V815.1H744.9zM818 847.6H891.1V855.7H818zM440.2 855.7H452.4V863.9H440.2zM476.8 855.7H488.9V863.9H476.8zM757.1 855.7H769.2V863.9H757.1zM939.9 855.7H952.1V863.9H939.9zM415.8 863.9H428V872H415.8zM501.1 863.9H513.3V872H501.1zM757.1 872H769.2V880.1H757.1zM939.9 872H952.1V880.1H939.9z"/>
<path fill="#424186" d="M562.1 766.4H586.4V774.6H562.1zM696.1 766.4H720.5V774.6H696.1zM513.3 774.6H525.5V782.7H513.3zM757.1 774.6H769.2V782.7H757.1zM501.1 782.7H513.3V790.8H501.1zM781.4 782.7H793.6V790.8H781.4zM501.1 790.8H513.3V798.9H501.1zM781.4 790.8H793.6V798.9H781.4zM513.3 798.9H525.5V807H513.3zM757.1 798.9H769.2V807H757.1zM562.1 807H586.4V815.1H562.1zM696.1 807H720.5V815.1H696.1zM769.2 855.7H781.4V863.9H769.2zM927.7 855.7H939.9V863.9H927.7zM428 863.9H440.2V872H428zM488.9 863.9H501.1V872H488.9zM757.1 863.9H769.2V872H757.1zM939.9 863.9H952.1V872H939.9zM440.2 872H452.4V880.1H440.2zM476.8 872H488.9V880.1H476.8zM720.5 880.1H744.9V896.3H720.5zM964.2 880.1H988.6V896.3H964.2z"/>
<path fill="#424086" d="M586.4 766.4H610.8V774.6H586.4zM671.8 766.4H696.1V774.6H671.8zM525.5 774.6H537.7V782.7H525.5zM744.9 774.6H757.1V782.7H744.9zM769.2 782.7H781.4V790.8H769.2zM769.2 790.8H781.4V798.9H769.2zM525.5 798.9H537.7V807H525.5zM744.9 798.9H757.1V807H744.9zM586.4 807H610.8V815.1H586.4zM671.8 807H696.1V815.1H671.8zM781.4 855.7H793.6V863.9H781.4zM915.5 855.7H927.7V863.9H915.5zM440.2 863.9H452.4V872H440.2zM476.8 863.9H488.9V872H476.8zM452.4 872H476.8V880.1H452.4zM781.4 872H793.6V880.1H781.4zM915.5 872H927.7V880.1H915.5zM403.6 880.1H452.4V896.3H403.6z"/>
<path fill="#423f85" d="M610.8 766.4H671.8V774.6H610.8zM537.7 774.6H549.9V782.7H537.7zM732.7 774.6H744.9V782.7H732.7zM513.3 782.7H525.5V790.8H513.3zM757.1 782.7H769.2V790.8H757.1zM513.3 790.8H525.5V798.9H513.3zM757.1 790.8H769.2V798.9H757.1zM537.7 798.9H549.9V807H537.7zM732.7 798.9H744.9V807H732.7zM610.8 807H671.8V815.1H610.8zM452.4 863.9H476.8V872H452.4zM769.2 863.9H781.4V872H769.2zM927.7 863.9H939.9V872H927.7zM793.6 872H805.8V880.1H793.6zM903.3 872H915.5V880.1H903.3zM744.9 880.1H769.2V896.3H744.9zM939.9 880.1H964.2V896.3H939.9z"/>
<path fill="#375b8d" d="M988.6 766.4H1013V774.6H988.6zM927.7 782.7H939.9V790.8H927.7z"/>
<path fill="#443b84" d="M562.1 774.6H574.3V782.7H562.1zM708.3 774.6H720.5V782.7H708.3zM744.9 782.7H757.1V790.8H744.9zM744.9 790.8H757.1V798.9H744.9zM562.1 798.9H574.3V807H562.1zM708.3 798.9H720.5V807H708.3zM805.8 855.7H818V863.9H805.8zM891.1 855.7H903.3V863.9H891.1zM781.4 863.9H793.6V872H781.4zM915.5 863.9H927.7V872H915.5zM818 872H830.2V880.1H818zM878.9 872H891.1V880.1H878.9zM769.2 880.1H793.6V896.3H769.2zM915.5 880.1H939.9V896.3H915.5z"/>
<path fill="#443a83" d="M574.3 774.6H586.4V782.7H574.3zM696.1 774.6H708.3V782.7H696.1zM537.7 782.7H549.9V790.8H537.7zM732.7 782.7H744.9V790.8H732.7zM537.7 790.8H549.9V798.9H537.7zM732.7 790.8H744.9V798.9H732.7zM574.3 798.9H586.4V807H574.3zM696.1 798.9H708.3V807H696.1zM818 855.7H830.2V863.9H818zM878.9 855.7H891.1V863.9H878.9zM830.2 872H878.9V880.1H830.2zM793.6 880.1H818V896.3H793.6zM891.1 880.1H915.5V896.3H891.1z"/>
<path fill="#443983" d="M586.4 774.6H598.6V782.7H586.4zM683.9 774.6H696.1V782.7H683.9zM549.9 782.7H562.1V790.8H549.9zM720.5 782.7H732.7V790.8H720.5zM549.9 790.8H562.1V798.9H549.9zM720.5 790.8H732.7V798.9H720.5zM586.4 798.9H598.6V807H586.4zM683.9 798.9H696.1V807H683.9zM830.2 855.7H878.9V863.9H830.2zM793.6 863.9H805.8V872H793.6zM903.3 863.9H915.5V872H903.3z"/>
<path fill="#33638d" d="M976.4 774.6H988.6V782.7H976.4zM952.1 782.7H964.2V790.8H952.1zM1013 807H1037.4V815.1H1013z"/>
<path fill="#31668e" d="M988.6 774.6H1000.8V782.7H988.6zM952.1 790.8H964.2V798.9H952.1zM964.2 798.9H976.4V807H964.2z"/>
<path fill="#453581" d="M562.1 782.7H574.3V790.8H562.1zM708.3 782.7H720.5V790.8H708.3zM562.1 790.8H574.3V798.9H562.1zM708.3 790.8H720.5V798.9H708.3zM818 863.9H830.2V872H818zM878.9 863.9H891.1V872H878.9z"/>
<path fill="#463480" d="M574.3 782.7H586.4V790.8H574.3zM696.1 782.7H708.3V790.8H696.1zM574.3 790.8H586.4V798.9H574.3zM696.1 790.8H708.3V798.9H696.1zM830.2 863.9H842.4V872H830.2zM866.7 863.9H878.9V872H866.7z"/>
<path fill="#46337f" d="M586.4 782.7H610.8V790.8H586.4zM671.8 782.7H696.1V790.8H671.8zM586.4 790.8H610.8V798.9H586.4zM671.8 790.8H696.1V798.9H671.8zM842.4 863.9H866.7V872H842.4z"/>
<path fill="#46307e" d="M610.8 782.7H671.8V790.8H610.8zM610.8 790.8H671.8V798.9H610.8z"/>
<path fill="#2f6b8e" d="M976.4 782.7H988.6V790.8H976.4zM988.6 798.9H1000.8V807H988.6z"/>
<path fill="#2c738e" d="M1000.8 790.8H1013V798.9H1000.8z"/>
<path fill="#2b748e" d="M1013 790.8H1037.4V798.9H1013z"/>
<path fill="none" stroke="#000" stroke-width="0.9" d="M233 620.3V1010M281.8 620.3V1010M330.5 620.3V1010M233 620.3H330.5M233 652.8H330.5M233 685.2H330.5M233 717.7H330.5M233 750.2H330.5M233 782.7H330.5M233 815.1H330.5M233 847.6H330.5M233 880.1H330.5M233 912.6H330.5M233 945H330.5M233 977.5H330.5M233 1010H330.5M1110.5 620.3V1010M1159.2 620.3V1010M1208 620.3V1010M1110.5 620.3H1208M1110.5 652.8H1208M1110.5 685.2H1208M1110.5 717.7H1208M1110.5 750.2H1208M1110.5 782.7H1208M1110.5 815.1H1208M1110.5 847.6H1208M1110.5 880.1H1208M1110.5 912.6H1208M1110.5 945H1208M1110.5 977.5H1208M1110.5 1010H1208M330.5 620.3V912.6M354.9 620.3V912.6M379.3 620.3V912.6M403.6 620.3V912.6M330.5 620.3H403.6M330.5 636.5H403.6M330.5 652.8H403.6M330.5 669H403.6M330.5 685.2H403.6M330.5 701.5H403.6M330.5 717.7H403.6M330.5 734H403.6M330.5 750.2H403.6M330.5 766.4H403.6M330.5 782.7H403.6M330.5 798.9H403.6M330.5 815.1H403.6M330.5 831.4H403.6M330.5 847.6H403.6M330.5 863.9H403.6M330.5 880.1H403.6M330.5 896.3H403.6M330.5 912.6H403.6M1037.4 620.3V912.6M1061.7 620.3V912.6M1086.1 620.3V912.6M1110.5 620.3V912.6M1037.4 620.3H1110.5M1037.4 636.5H1110.5M1037.4 652.8H1110.5M1037.4 669H1110.5M1037.4 685.2H1110.5M1037.4 701.5H1110.5M1037.4 717.7H1110.5M1037.4 734H1110.5M1037.4 750.2H1110.5M1037.4 766.4H1110.5M1037.4 782.7H1110.5M1037.4 798.9H1110.5M1037.4 815.1H1110.5M1037.4 831.4H1110.5M1037.4 847.6H1110.5M1037.4 863.9H1110.5M1037.4 880.1H1110.5M1037.4 896.3H1110.5M1037.4 912.6H1110.5M330.5 912.6V1010M379.3 912.6V1010M428 912.6V1010M476.8 912.6V1010M525.5 912.6V1010M574.3 912.6V1010M623 912.6V1010M671.8 912.6V1010M720.5 912.6V1010M769.2 912.6V1010M818 912.6V1010M866.7 912.6V1010M915.5 912.6V1010M964.2 912.6V1010M1013 912.6V1010M1061.7 912.6V1010M1110.5 912.6V1010M330.5 912.6H1110.5M330.5 945H1110.5M330.5 977.5H1110.5M330.5 1010H1110.5M403.6 620.3V880.1M415.8 620.3V880.1M428 620.3V880.1M440.2 620.3V880.1M452.4 620.3V880.1M464.6 620.3V880.1M476.8 620.3V880.1M488.9 620.3V880.1M501.1 620.3V880.1M513.3 620.3V880.1M525.5 620.3V880.1M537.7 620.3V880.1M549.9 620.3V880.1M562.1 620.3V880.1M574.3 620.3V880.1M586.4 620.3V880.1M598.6 620.3V880.1M610.8 620.3V880.1M623 620.3V880.1M635.2 620.3V880.1M647.4 620.3V880.1M659.6 620.3V880.1M671.8 620.3V880.1M683.9 620.3V880.1M696.1 620.3V880.1M708.3 620.3V880.1M720.5 620.3V880.1M732.7 620.3V880.1M744.9 620.3V880.1M757.1 620.3V880.1M769.2 620.3V880.1M781.4 620.3V880.1M793.6 620.3V880.1M805.8 620.3V880.1M818 620.3V880.1M830.2 620.3V880.1M842.4 620.3V880.1M854.6 620.3V880.1M866.7 620.3V880.1M878.9 620.3V880.1M891.1 620.3V880.1M903.3 620.3V880.1M915.5 620.3V880.1M927.7 620.3V880.1M939.9 620.3V880.1M952.1 620.3V880.1M964.2 620.3V880.1M976.4 620.3V880.1M988.6 620.3V880.1M1000.8 620.3V880.1M1013 620.3V880.1M1025.2 620.3V880.1M1037.4 620.3V880.1M403.6 620.3H1037.4M403.6 628.4H1037.4M403.6 636.5H1037.4M403.6 644.7H1037.4M403.6 652.8H1037.4M403.6 660.9H1037.4M403.6 669H1037.4M403.6 677.1H1037.4M403.6 685.2H1037.4M403.6 693.4H1037.4M403.6 701.5H1037.4M403.6 709.6H1037.4M403.6 717.7H1037.4M403.6 725.8H1037.4M403.6 734H1037.4M403.6 742.1H1037.4M403.6 750.2H1037.4M403.6 758.3H1037.4M403.6 766.4H1037.4M403.6 774.6H1037.4M403.6 782.7H1037.4M403.6 790.8H1037.4M403.6 798.9H1037.4M403.6 807H1037.4M403.6 815.1H1037.4M403.6 823.3H1037.4M403.6 831.4H1037.4M403.6 839.5H1037.4M403.6 847.6H1037.4M403.6 855.7H1037.4M403.6 863.9H1037.4M403.6 872H1037.4M403.6 880.1H1037.4M403.6 880.1V912.6M428 880.1V912.6M452.4 880.1V912.6M476.8 880.1V912.6M501.1 880.1V912.6M525.5 880.1V912.6M549.9 880.1V912.6M574.3 880.1V912.6M598.6 880.1V912.6M623 880.1V912.6M647.4 880.1V912.6M671.8 880.1V912.6M696.1 880.1V912.6M720.5 880.1V912.6M744.9 880.1V912.6M769.2 880.1V912.6M793.6 880.1V912.6M818 880.1V912.6M842.4 880.1V912.6M866.7 880.1V912.6M891.1 880.1V912.6M915.5 880.1V912.6M939.9 880.1V912.6M964.2 880.1V912.6M988.6 880.1V912.6M1013 880.1V912.6M1037.4 880.1V912.6M403.6 880.1H1037.4M403.6 896.3H1037.4M403.6 912.6H1037.4"/>
<rect x="184.8" y="600.8" width="1071.9" height="428.2" fill="none" stroke="#000" stroke-width="2.45"/>
<path stroke="#000" stroke-width="2.33" d="M233 1029V1039M354.9 1029V1039M476.8 1029V1039M598.6 1029V1039M720.5 1029V1039M842.4 1029V1039M964.2 1029V1039M1086.1 1029V1039M1208 1029V1039M184.8 620.3H174.8M184.8 742.1H174.8M184.8 863.9H174.8M184.8 985.6H174.8"/>
<g font-family="Liberation Sans, Arial, sans-serif" font-size="30.5" letter-spacing="2.1" stroke="#000" stroke-width="0.35">
<text x="192.41" y="1073.9">−<tspan dx="4.9">400</tspan></text>
<text x="314.28" y="1073.9">−<tspan dx="4.9">300</tspan></text>
<text x="436.15" y="1073.9">−<tspan dx="4.9">200</tspan></text>
<text x="558.02" y="1073.9">−<tspan dx="4.9">100</tspan></text>
<text x="711.52" y="1073.9">0</text>
<text x="813.76" y="1073.9">100</text>
<text x="936.02" y="1073.9">200</text>
<text x="1058.08" y="1073.9">300</text>
<text x="1180.18" y="1073.9">400</text>
<text x="144.23" y="631.49">0</text>
<text x="81.29" y="753.27">−<tspan dx="4.9">100</tspan></text>
<text x="81.29" y="875.05">−<tspan dx="4.9">200</tspan></text>
<text x="81.29" y="996.83">−<tspan dx="4.9">300</tspan></text>
<text x="681.16" y="1114.6">x (m)</text>
<text transform="translate(63.4 816.3) rotate(-90)" x="-38.59">z (m)</text>
</g>
<g font-family="Liberation Serif, Times New Roman, serif" font-size="40">
<text x="359.26" y="1176.5" textLength="438.68" lengthAdjust="spacingAndGlyphs">(b) Slice through model at</text>
<text x="817.34" y="1176.5" textLength="16.15" lengthAdjust="spacingAndGlyphs" font-style="italic">y</text>
<text x="843.36" y="1176.5" textLength="32.12" lengthAdjust="spacingAndGlyphs">=</text>
<text x="884.28" y="1176.5" textLength="21.24" lengthAdjust="spacingAndGlyphs">0</text>
<text x="911.18" y="1176.5" textLength="30.22" lengthAdjust="spacingAndGlyphs">m</text>
</g>
<path fill="#4ec36b" d="M324.1 1328.8H602.3V1354.1H324.1zM981.7 1328.8H1007V1354.1H981.7zM324.1 1303.5H602.3V1328.8H324.1zM981.7 1303.5H1007V1328.8H981.7zM324.1 1278.2H577V1303.5H324.1zM981.7 1278.2H1007V1303.5H981.7zM324.1 2062.5H804.7V2087.8H324.1zM324.1 2037.2H804.7V2062.5H324.1zM324.1 2011.9H804.7V2037.2H324.1zM324.1 1986.6H400V2011.9H324.1zM324.1 1632.4H400V1657.7H324.1zM324.1 1607.1H400V1632.4H324.1zM324.1 1581.8H400V1607.1H324.1zM324.1 1556.5H400V1581.8H324.1zM324.1 1531.2H400V1556.5H324.1zM324.1 1505.9H400V1531.2H324.1zM324.1 1480.6H400V1505.9H324.1zM324.1 1455.3H400V1480.6H324.1zM324.1 1430H400V1455.3H324.1zM324.1 1404.7H400V1430H324.1zM324.1 1379.4H400V1404.7H324.1zM324.1 1354.1H400V1379.4H324.1zM1082.9 1860.1H1133.5V1885.4H1082.9zM1057.6 1834.8H1133.5V1860.1H1057.6zM1057.6 1809.5H1082.9V1834.8H1057.6zM1057.6 1430H1133.5V1455.3H1057.6zM842.6 1999.2H867.9V2011.9H842.6zM855.3 1986.6H880.6V1999.2H855.3zM855.3 1974H880.6V1986.6H855.3zM867.9 1961.3H893.2V1974H867.9zM867.9 1948.7H905.9V1961.3H867.9zM880.6 1936H918.5V1948.7H880.6zM893.2 1923.3H931.2V1936H893.2zM905.9 1910.7H956.4V1923.3H905.9zM931.2 1898H994.4V1910.7H931.2zM956.4 1885.4H1057.6V1898H956.4zM981.7 1872.8H1057.6V1885.4H981.7zM1045 1404.7H1057.6V1417.3H1045zM1032.3 1392H1057.6V1404.7H1032.3zM1019.7 1379.4H1045V1392H1019.7zM1019.7 1366.8H1032.3V1379.4H1019.7zM1007 1354.1H1032.3V1366.8H1007z"/>
<path fill="#4cc26c" d="M602.3 1328.8H678.2V1354.1H602.3zM956.4 1328.8H981.7V1354.1H956.4zM602.3 1303.5H652.9V1328.8H602.3zM956.4 1303.5H981.7V1328.8H956.4zM577 1278.2H652.9V1303.5H577zM324.1 1961.3H400V1986.6H324.1zM324.1 1936H400V1961.3H324.1zM374.7 1910.7H400V1936H374.7zM374.7 1708.3H400V1733.6H374.7zM324.1 1683H400V1708.3H324.1zM324.1 1657.7H400V1683H324.1zM1082.9 1809.5H1133.5V1834.8H1082.9zM1057.6 1784.2H1082.9V1809.5H1057.6zM1057.6 1758.9H1082.9V1784.2H1057.6zM1057.6 1480.6H1082.9V1505.9H1057.6zM1057.6 1455.3H1133.5V1480.6H1057.6zM792 1999.2H842.6V2011.9H792zM804.7 1986.6H855.3V1999.2H804.7zM804.7 1974H855.3V1986.6H804.7zM804.7 1961.3H867.9V1974H804.7zM817.3 1948.7H867.9V1961.3H817.3zM830 1936H880.6V1948.7H830zM830 1923.3H893.2V1936H830zM842.6 1910.7H905.9V1923.3H842.6zM855.3 1898H931.2V1910.7H855.3zM867.9 1885.4H956.4V1898H867.9zM880.6 1872.8H981.7V1885.4H880.6zM905.9 1860.1H1057.6V1872.8H905.9zM918.5 1847.5H1057.6V1860.1H918.5zM956.4 1834.8H1057.6V1847.5H956.4zM994.4 1822.2H1032.3V1834.8H994.4zM1032.3 1442.7H1057.6V1455.3H1032.3zM1007 1430H1057.6V1442.7H1007zM1007 1417.3H1057.6V1430H1007zM994.4 1404.7H1045V1417.3H994.4zM994.4 1392H1032.3V1404.7H994.4zM994.4 1379.4H1019.7V1392H994.4zM994.4 1366.8H1019.7V1379.4H994.4zM994.4 1354.1H1007V1366.8H994.4z"/>
<path fill="#48c16e" d="M678.2 1328.8H703.5V1354.1H678.2zM652.9 1303.5H678.2V1328.8H652.9zM652.9 1278.2H678.2V1303.5H652.9zM956.4 1278.2H981.7V1303.5H956.4zM324.1 1910.7H374.7V1936H324.1zM374.7 1885.4H400V1910.7H374.7zM374.7 1860.1H400V1885.4H374.7zM374.7 1758.9H400V1784.2H374.7zM374.7 1733.6H400V1758.9H374.7zM324.1 1708.3H374.7V1733.6H324.1zM1082.9 1784.2H1133.5V1809.5H1082.9zM1082.9 1758.9H1133.5V1784.2H1082.9zM1057.6 1733.6H1082.9V1758.9H1057.6zM1057.6 1708.3H1082.9V1733.6H1057.6zM1057.6 1683H1082.9V1708.3H1057.6zM1057.6 1657.7H1082.9V1683H1057.6zM1057.6 1632.4H1082.9V1657.7H1057.6zM1057.6 1607.1H1082.9V1632.4H1057.6zM1057.6 1581.8H1082.9V1607.1H1057.6zM1057.6 1556.5H1082.9V1581.8H1057.6zM1057.6 1531.2H1082.9V1556.5H1057.6zM1057.6 1505.9H1082.9V1531.2H1057.6zM1082.9 1480.6H1133.5V1505.9H1082.9zM400 1999.2H792V2011.9H400zM400 1986.6H804.7V1999.2H400zM400 1974H804.7V1986.6H400zM400 1961.3H804.7V1974H400zM400 1948.7H817.3V1961.3H400zM400 1936H830V1948.7H400zM400 1923.3H830V1936H400zM400 1910.7H842.6V1923.3H400zM400 1898H855.3V1910.7H400zM412.6 1885.4H867.9V1898H412.6zM412.6 1872.8H880.6V1885.4H412.6zM412.6 1860.1H905.9V1872.8H412.6zM412.6 1847.5H918.5V1860.1H412.6zM412.6 1834.8H956.4V1847.5H412.6zM412.6 1822.2H994.4V1834.8H412.6zM1032.3 1822.2H1057.6V1834.8H1032.3zM412.6 1809.5H1057.6V1822.2H412.6zM412.6 1796.8H1057.6V1809.5H412.6zM412.6 1784.2H1057.6V1796.8H412.6zM412.6 1771.5H1057.6V1784.2H412.6zM412.6 1758.9H1057.6V1771.5H412.6zM412.6 1746.2H1057.6V1758.9H412.6zM400 1733.6H741.4V1746.2H400zM792 1733.6H1057.6V1746.2H792zM400 1721H741.4V1733.6H400zM792 1721H1045V1733.6H792zM400 1708.3H741.4V1721H400zM792 1708.3H1045V1721H792zM400 1695.7H741.4V1708.3H400zM792 1695.7H1045V1708.3H792zM400 1683H741.4V1695.7H400zM792 1683H1045V1695.7H792zM400 1670.3H741.4V1683H400zM792 1670.3H1045V1683H792zM400 1657.7H741.4V1670.3H400zM792 1657.7H1045V1670.3H792zM400 1645H741.4V1657.7H400zM792 1645H1045V1657.7H792zM400 1632.4H741.4V1645H400zM792 1632.4H1045V1645H792zM400 1619.8H741.4V1632.4H400zM792 1619.8H1045V1632.4H792zM400 1607.1H1045V1619.8H400zM400 1594.5H1045V1607.1H400zM400 1581.8H1045V1594.5H400zM400 1569.2H1045V1581.8H400zM400 1556.5H1045V1569.2H400zM400 1543.8H1045V1556.5H400zM400 1531.2H1045V1543.8H400zM400 1518.5H1045V1531.2H400zM400 1505.9H1057.6V1518.5H400zM400 1493.2H1057.6V1505.9H400zM400 1480.6H1057.6V1493.2H400zM400 1468H1057.6V1480.6H400zM400 1455.3H1057.6V1468H400zM400 1442.7H766.7V1455.3H400zM880.6 1442.7H1032.3V1455.3H880.6zM400 1430H741.4V1442.7H400zM905.9 1430H1007V1442.7H905.9zM400 1417.3H716.2V1430H400zM931.2 1417.3H1007V1430H931.2zM400 1404.7H690.9V1417.3H400zM943.8 1404.7H994.4V1417.3H943.8zM400 1392H678.2V1404.7H400zM956.4 1392H994.4V1404.7H956.4zM400 1379.4H665.6V1392H400zM956.4 1379.4H994.4V1392H956.4zM400 1366.8H665.6V1379.4H400zM969.1 1366.8H994.4V1379.4H969.1zM400 1354.1H652.9V1366.8H400zM969.1 1354.1H994.4V1366.8H969.1z"/>
<path fill="#44bf70" d="M703.5 1328.8H728.8V1354.1H703.5zM905.9 1328.8H931.2V1354.1H905.9zM931.2 1278.2H956.4V1303.5H931.2zM324.1 1860.1H374.7V1885.4H324.1zM324.1 1758.9H374.7V1784.2H324.1zM1082.9 1657.7H1133.5V1683H1082.9zM1082.9 1632.4H1133.5V1657.7H1082.9zM1082.9 1607.1H1133.5V1632.4H1082.9zM1082.9 1581.8H1133.5V1607.1H1082.9zM1082.9 1556.5H1133.5V1581.8H1082.9zM766.7 1404.7H880.6V1417.3H766.7zM741.4 1392H779.4V1404.7H741.4zM867.9 1392H905.9V1404.7H867.9zM716.2 1379.4H754.1V1392H716.2zM893.2 1379.4H931.2V1392H893.2zM703.5 1366.8H728.8V1379.4H703.5zM918.5 1366.8H943.8V1379.4H918.5zM690.9 1354.1H716.2V1366.8H690.9zM931.2 1354.1H943.8V1366.8H931.2z"/>
<path fill="#40bd72" d="M728.8 1328.8H754.1V1354.1H728.8zM703.5 1303.5H728.8V1328.8H703.5zM905.9 1303.5H931.2V1328.8H905.9zM703.5 1278.2H728.8V1303.5H703.5zM324.1 1834.8H374.7V1860.1H324.1zM324.1 1809.5H374.7V1834.8H324.1zM324.1 1784.2H374.7V1809.5H324.1zM779.4 1392H867.9V1404.7H779.4zM754.1 1379.4H792V1392H754.1zM855.3 1379.4H893.2V1392H855.3zM728.8 1366.8H754.1V1379.4H728.8zM893.2 1366.8H918.5V1379.4H893.2zM716.2 1354.1H741.4V1366.8H716.2zM905.9 1354.1H931.2V1366.8H905.9z"/>
<path fill="#3dbc74" d="M754.1 1328.8H779.4V1354.1H754.1zM728.8 1303.5H754.1V1328.8H728.8zM779.4 1366.8H867.9V1379.4H779.4zM754.1 1354.1H779.4V1366.8H754.1zM867.9 1354.1H893.2V1366.8H867.9z"/>
<path fill="#3bbb75" d="M779.4 1328.8H804.7V1354.1H779.4zM855.3 1328.8H880.6V1354.1H855.3zM880.6 1303.5H905.9V1328.8H880.6zM728.8 1278.2H754.1V1303.5H728.8zM779.4 1354.1H867.9V1366.8H779.4z"/>
<path fill="#38b977" d="M804.7 1328.8H855.3V1354.1H804.7zM754.1 1303.5H779.4V1328.8H754.1zM880.6 1278.2H905.9V1303.5H880.6z"/>
<path fill="#3fbc73" d="M880.6 1328.8H905.9V1354.1H880.6zM905.9 1278.2H931.2V1303.5H905.9zM792 1379.4H855.3V1392H792zM754.1 1366.8H779.4V1379.4H754.1zM867.9 1366.8H893.2V1379.4H867.9zM741.4 1354.1H754.1V1366.8H741.4zM893.2 1354.1H905.9V1366.8H893.2z"/>
<path fill="#46c06f" d="M931.2 1328.8H956.4V1354.1H931.2zM678.2 1303.5H703.5V1328.8H678.2zM931.2 1303.5H956.4V1328.8H931.2zM678.2 1278.2H703.5V1303.5H678.2zM324.1 1885.4H374.7V1910.7H324.1zM374.7 1834.8H400V1860.1H374.7zM374.7 1809.5H400V1834.8H374.7zM374.7 1784.2H400V1809.5H374.7zM324.1 1733.6H374.7V1758.9H324.1zM1082.9 1733.6H1133.5V1758.9H1082.9zM1082.9 1708.3H1133.5V1733.6H1082.9zM1082.9 1683H1133.5V1708.3H1082.9zM1082.9 1531.2H1133.5V1556.5H1082.9zM1082.9 1505.9H1133.5V1531.2H1082.9zM400 1885.4H412.6V1898H400zM400 1872.8H412.6V1885.4H400zM400 1860.1H412.6V1872.8H400zM400 1847.5H412.6V1860.1H400zM400 1834.8H412.6V1847.5H400zM400 1822.2H412.6V1834.8H400zM400 1809.5H412.6V1822.2H400zM400 1796.8H412.6V1809.5H400zM400 1784.2H412.6V1796.8H400zM400 1771.5H412.6V1784.2H400zM400 1758.9H412.6V1771.5H400zM400 1746.2H412.6V1758.9H400zM1045 1721H1057.6V1733.6H1045zM1045 1708.3H1057.6V1721H1045zM1045 1695.7H1057.6V1708.3H1045zM1045 1683H1057.6V1695.7H1045zM1045 1670.3H1057.6V1683H1045zM1045 1657.7H1057.6V1670.3H1045zM1045 1645H1057.6V1657.7H1045zM1045 1632.4H1057.6V1645H1045zM1045 1619.8H1057.6V1632.4H1045zM1045 1607.1H1057.6V1619.8H1045zM1045 1594.5H1057.6V1607.1H1045zM1045 1581.8H1057.6V1594.5H1045zM1045 1569.2H1057.6V1581.8H1045zM1045 1556.5H1057.6V1569.2H1045zM1045 1543.8H1057.6V1556.5H1045zM1045 1531.2H1057.6V1543.8H1045zM1045 1518.5H1057.6V1531.2H1045zM766.7 1442.7H880.6V1455.3H766.7zM741.4 1430H905.9V1442.7H741.4zM716.2 1417.3H931.2V1430H716.2zM690.9 1404.7H766.7V1417.3H690.9zM880.6 1404.7H943.8V1417.3H880.6zM678.2 1392H741.4V1404.7H678.2zM905.9 1392H956.4V1404.7H905.9zM665.6 1379.4H716.2V1392H665.6zM931.2 1379.4H956.4V1392H931.2zM665.6 1366.8H703.5V1379.4H665.6zM943.8 1366.8H969.1V1379.4H943.8zM652.9 1354.1H690.9V1366.8H652.9zM943.8 1354.1H969.1V1366.8H943.8z"/>
<path fill="#52c569" d="M1007 1328.8H1032.3V1354.1H1007zM1007 1303.5H1032.3V1328.8H1007zM1007 1278.2H1032.3V1303.5H1007zM830 2062.5H855.3V2087.8H830zM855.3 2011.9H880.6V2037.2H855.3zM1108.2 1910.7H1133.5V1936H1108.2zM1057.6 1885.4H1108.2V1910.7H1057.6zM893.2 1999.2H905.9V2011.9H893.2zM905.9 1986.6H918.5V1999.2H905.9zM905.9 1974H931.2V1986.6H905.9zM918.5 1961.3H943.8V1974H918.5zM931.2 1948.7H956.4V1961.3H931.2zM956.4 1936H981.7V1948.7H956.4zM981.7 1923.3H1057.6V1936H981.7zM1019.7 1910.7H1057.6V1923.3H1019.7zM1045 1354.1H1057.6V1366.8H1045z"/>
<path fill="#58c765" d="M1032.3 1328.8H1057.6V1354.1H1032.3zM1032.3 1303.5H1057.6V1328.8H1032.3zM1032.3 1278.2H1057.6V1303.5H1032.3zM880.6 2062.5H905.9V2087.8H880.6zM880.6 2037.2H905.9V2062.5H880.6zM880.6 2011.9H905.9V2037.2H880.6zM1108.2 1936H1133.5V1961.3H1108.2zM1057.6 1354.1H1082.9V1379.4H1057.6zM931.2 1999.2H943.8V2011.9H931.2zM943.8 1986.6H956.4V1999.2H943.8zM956.4 1974H969.1V1986.6H956.4zM969.1 1961.3H994.4V1974H969.1zM994.4 1948.7H1057.6V1961.3H994.4z"/>
<path fill="#5ac864" d="M1057.6 1328.8H1082.9V1354.1H1057.6zM905.9 2011.9H931.2V2037.2H905.9zM1057.6 1936H1108.2V1961.3H1057.6zM1082.9 1354.1H1133.5V1379.4H1082.9zM943.8 1999.2H956.4V2011.9H943.8zM956.4 1986.6H969.1V1999.2H956.4zM969.1 1974H994.4V1986.6H969.1zM994.4 1961.3H1057.6V1974H994.4z"/>
<path fill="#5ec962" d="M1082.9 1328.8H1133.5V1354.1H1082.9zM1057.6 1303.5H1082.9V1328.8H1057.6zM1057.6 1278.2H1082.9V1303.5H1057.6zM905.9 2062.5H931.2V2087.8H905.9zM905.9 2037.2H931.2V2062.5H905.9zM1108.2 1961.3H1133.5V1986.6H1108.2zM956.4 1999.2H969.1V2011.9H956.4zM969.1 1986.6H994.4V1999.2H969.1zM994.4 1974H1032.3V1986.6H994.4zM1045 1974H1057.6V1986.6H1045z"/>
<path fill="#35b779" d="M779.4 1303.5H804.7V1328.8H779.4zM830 1303.5H855.3V1328.8H830zM855.3 1278.2H880.6V1303.5H855.3z"/>
<path fill="#32b67a" d="M804.7 1303.5H830V1328.8H804.7zM779.4 1278.2H804.7V1303.5H779.4z"/>
<path fill="#37b878" d="M855.3 1303.5H880.6V1328.8H855.3zM754.1 1278.2H779.4V1303.5H754.1z"/>
<path fill="#60ca60" d="M1082.9 1303.5H1133.5V1328.8H1082.9zM1082.9 1278.2H1133.5V1303.5H1082.9zM931.2 2011.9H956.4V2037.2H931.2zM1108.2 1986.6H1133.5V2011.9H1108.2zM1057.6 1961.3H1108.2V1986.6H1057.6zM969.1 1999.2H994.4V2011.9H969.1zM994.4 1986.6H1032.3V1999.2H994.4zM1032.3 1974H1045V1986.6H1032.3z"/>
<path fill="#31b57b" d="M804.7 1278.2H855.3V1303.5H804.7z"/>
<path fill="#50c46a" d="M804.7 2062.5H830V2087.8H804.7zM804.7 2037.2H855.3V2062.5H804.7zM804.7 2011.9H855.3V2037.2H804.7zM1108.2 1885.4H1133.5V1910.7H1108.2zM1057.6 1860.1H1082.9V1885.4H1057.6zM1057.6 1404.7H1133.5V1430H1057.6zM867.9 1999.2H893.2V2011.9H867.9zM880.6 1986.6H905.9V1999.2H880.6zM880.6 1974H905.9V1986.6H880.6zM893.2 1961.3H918.5V1974H893.2zM905.9 1948.7H931.2V1961.3H905.9zM918.5 1936H956.4V1948.7H918.5zM931.2 1923.3H981.7V1936H931.2zM956.4 1910.7H1019.7V1923.3H956.4zM994.4 1898H1057.6V1910.7H994.4zM1045 1379.4H1057.6V1392H1045zM1032.3 1366.8H1057.6V1379.4H1032.3zM1032.3 1354.1H1045V1366.8H1032.3z"/>
<path fill="#56c667" d="M855.3 2062.5H880.6V2087.8H855.3zM855.3 2037.2H880.6V2062.5H855.3zM1057.6 1910.7H1108.2V1936H1057.6zM1057.6 1379.4H1133.5V1404.7H1057.6zM905.9 1999.2H931.2V2011.9H905.9zM918.5 1986.6H943.8V1999.2H918.5zM931.2 1974H956.4V1986.6H931.2zM943.8 1961.3H969.1V1974H943.8zM956.4 1948.7H994.4V1961.3H956.4zM981.7 1936H1057.6V1948.7H981.7z"/>
<path fill="#65cb5e" d="M931.2 2062.5H956.4V2087.8H931.2zM956.4 2011.9H981.7V2037.2H956.4zM1108.2 2011.9H1133.5V2037.2H1108.2zM1057.6 1986.6H1108.2V2011.9H1057.6zM1019.7 1999.2H1057.6V2011.9H1019.7z"/>
<path fill="#6ccd5a" d="M956.4 2062.5H981.7V2087.8H956.4zM1108.2 2062.5H1133.5V2087.8H1108.2z"/>
<path fill="#70cf57" d="M981.7 2062.5H1007V2087.8H981.7zM1082.9 2062.5H1108.2V2087.8H1082.9zM1007 2037.2H1032.3V2062.5H1007zM1057.6 2037.2H1082.9V2062.5H1057.6z"/>
<path fill="#75d054" d="M1007 2062.5H1082.9V2087.8H1007zM1032.3 2037.2H1057.6V2062.5H1032.3z"/>
<path fill="#63cb5f" d="M931.2 2037.2H956.4V2062.5H931.2zM994.4 1999.2H1019.7V2011.9H994.4zM1032.3 1986.6H1057.6V1999.2H1032.3z"/>
<path fill="#69cd5b" d="M956.4 2037.2H981.7V2062.5H956.4zM1108.2 2037.2H1133.5V2062.5H1108.2zM981.7 2011.9H1007V2037.2H981.7zM1082.9 2011.9H1108.2V2037.2H1082.9z"/>
<path fill="#6ece58" d="M981.7 2037.2H1007V2062.5H981.7zM1082.9 2037.2H1108.2V2062.5H1082.9zM1007 2011.9H1082.9V2037.2H1007z"/>
<path fill="#9bd93c" d="M741.4 1733.6H754.1V1746.2H741.4zM741.4 1721H754.1V1733.6H741.4zM741.4 1708.3H754.1V1721H741.4zM741.4 1695.7H754.1V1708.3H741.4zM741.4 1683H754.1V1695.7H741.4zM741.4 1670.3H754.1V1683H741.4zM741.4 1657.7H754.1V1670.3H741.4zM741.4 1645H754.1V1657.7H741.4zM741.4 1632.4H754.1V1645H741.4zM741.4 1619.8H754.1V1632.4H741.4z"/>
<path fill="#fde725" d="M754.1 1733.6H792V1746.2H754.1zM754.1 1721H792V1733.6H754.1zM754.1 1708.3H792V1721H754.1zM754.1 1695.7H792V1708.3H754.1zM754.1 1683H792V1695.7H754.1zM754.1 1670.3H792V1683H754.1zM754.1 1657.7H792V1670.3H754.1zM754.1 1645H792V1657.7H754.1zM754.1 1632.4H792V1645H754.1zM754.1 1619.8H792V1632.4H754.1z"/>
<path fill="none" stroke="#000" stroke-width="0.9" d="M324.1 1354.1V1278.2M349.4 1354.1V1278.2M374.7 1354.1V1278.2M400 1354.1V1278.2M425.3 1354.1V1278.2M450.6 1354.1V1278.2M475.9 1354.1V1278.2M501.2 1354.1V1278.2M526.4 1354.1V1278.2M551.7 1354.1V1278.2M577 1354.1V1278.2M602.3 1354.1V1278.2M627.6 1354.1V1278.2M652.9 1354.1V1278.2M678.2 1354.1V1278.2M703.5 1354.1V1278.2M728.8 1354.1V1278.2M754.1 1354.1V1278.2M779.4 1354.1V1278.2M804.7 1354.1V1278.2M830 1354.1V1278.2M855.3 1354.1V1278.2M880.6 1354.1V1278.2M905.9 1354.1V1278.2M931.2 1354.1V1278.2M956.4 1354.1V1278.2M981.7 1354.1V1278.2M1007 1354.1V1278.2M1032.3 1354.1V1278.2M1057.6 1354.1V1278.2M1082.9 1354.1V1278.2M1108.2 1354.1V1278.2M1133.5 1354.1V1278.2M324.1 1354.1H1133.5M324.1 1328.8H1133.5M324.1 1303.5H1133.5M324.1 1278.2H1133.5M324.1 2087.8V2011.9M349.4 2087.8V2011.9M374.7 2087.8V2011.9M400 2087.8V2011.9M425.3 2087.8V2011.9M450.6 2087.8V2011.9M475.9 2087.8V2011.9M501.2 2087.8V2011.9M526.4 2087.8V2011.9M551.7 2087.8V2011.9M577 2087.8V2011.9M602.3 2087.8V2011.9M627.6 2087.8V2011.9M652.9 2087.8V2011.9M678.2 2087.8V2011.9M703.5 2087.8V2011.9M728.8 2087.8V2011.9M754.1 2087.8V2011.9M779.4 2087.8V2011.9M804.7 2087.8V2011.9M830 2087.8V2011.9M855.3 2087.8V2011.9M880.6 2087.8V2011.9M905.9 2087.8V2011.9M931.2 2087.8V2011.9M956.4 2087.8V2011.9M981.7 2087.8V2011.9M1007 2087.8V2011.9M1032.3 2087.8V2011.9M1057.6 2087.8V2011.9M1082.9 2087.8V2011.9M1108.2 2087.8V2011.9M1133.5 2087.8V2011.9M324.1 2087.8H1133.5M324.1 2062.5H1133.5M324.1 2037.2H1133.5M324.1 2011.9H1133.5M324.1 2011.9V1354.1M349.4 2011.9V1354.1M374.7 2011.9V1354.1M400 2011.9V1354.1M324.1 2011.9H400M324.1 1986.6H400M324.1 1961.3H400M324.1 1936H400M324.1 1910.7H400M324.1 1885.4H400M324.1 1860.1H400M324.1 1834.8H400M324.1 1809.5H400M324.1 1784.2H400M324.1 1758.9H400M324.1 1733.6H400M324.1 1708.3H400M324.1 1683H400M324.1 1657.7H400M324.1 1632.4H400M324.1 1607.1H400M324.1 1581.8H400M324.1 1556.5H400M324.1 1531.2H400M324.1 1505.9H400M324.1 1480.6H400M324.1 1455.3H400M324.1 1430H400M324.1 1404.7H400M324.1 1379.4H400M324.1 1354.1H400M1057.6 2011.9V1354.1M1082.9 2011.9V1354.1M1108.2 2011.9V1354.1M1133.5 2011.9V1354.1M1057.6 2011.9H1133.5M1057.6 1986.6H1133.5M1057.6 1961.3H1133.5M1057.6 1936H1133.5M1057.6 1910.7H1133.5M1057.6 1885.4H1133.5M1057.6 1860.1H1133.5M1057.6 1834.8H1133.5M1057.6 1809.5H1133.5M1057.6 1784.2H1133.5M1057.6 1758.9H1133.5M1057.6 1733.6H1133.5M1057.6 1708.3H1133.5M1057.6 1683H1133.5M1057.6 1657.7H1133.5M1057.6 1632.4H1133.5M1057.6 1607.1H1133.5M1057.6 1581.8H1133.5M1057.6 1556.5H1133.5M1057.6 1531.2H1133.5M1057.6 1505.9H1133.5M1057.6 1480.6H1133.5M1057.6 1455.3H1133.5M1057.6 1430H1133.5M1057.6 1404.7H1133.5M1057.6 1379.4H1133.5M1057.6 1354.1H1133.5M400 2011.9V1354.1M412.6 2011.9V1354.1M425.3 2011.9V1354.1M437.9 2011.9V1354.1M450.6 2011.9V1354.1M463.2 2011.9V1354.1M475.9 2011.9V1354.1M488.5 2011.9V1354.1M501.2 2011.9V1354.1M513.8 2011.9V1354.1M526.4 2011.9V1354.1M539.1 2011.9V1354.1M551.7 2011.9V1354.1M564.4 2011.9V1354.1M577 2011.9V1354.1M589.7 2011.9V1354.1M602.3 2011.9V1354.1M615 2011.9V1354.1M627.6 2011.9V1354.1M640.3 2011.9V1354.1M652.9 2011.9V1354.1M665.6 2011.9V1354.1M678.2 2011.9V1354.1M690.9 2011.9V1354.1M703.5 2011.9V1354.1M716.2 2011.9V1354.1M728.8 2011.9V1354.1M741.4 2011.9V1354.1M754.1 2011.9V1354.1M766.7 2011.9V1354.1M779.4 2011.9V1354.1M792 2011.9V1354.1M804.7 2011.9V1354.1M817.3 2011.9V1354.1M830 2011.9V1354.1M842.6 2011.9V1354.1M855.3 2011.9V1354.1M867.9 2011.9V1354.1M880.6 2011.9V1354.1M893.2 2011.9V1354.1M905.9 2011.9V1354.1M918.5 2011.9V1354.1M931.2 2011.9V1354.1M943.8 2011.9V1354.1M956.4 2011.9V1354.1M969.1 2011.9V1354.1M981.7 2011.9V1354.1M994.4 2011.9V1354.1M1007 2011.9V1354.1M1019.7 2011.9V1354.1M1032.3 2011.9V1354.1M1045 2011.9V1354.1M1057.6 2011.9V1354.1M400 2011.9H1057.6M400 1999.2H1057.6M400 1986.6H1057.6M400 1974H1057.6M400 1961.3H1057.6M400 1948.7H1057.6M400 1936H1057.6M400 1923.3H1057.6M400 1910.7H1057.6M400 1898H1057.6M400 1885.4H1057.6M400 1872.8H1057.6M400 1860.1H1057.6M400 1847.5H1057.6M400 1834.8H1057.6M400 1822.2H1057.6M400 1809.5H1057.6M400 1796.8H1057.6M400 1784.2H1057.6M400 1771.5H1057.6M400 1758.9H1057.6M400 1746.2H1057.6M400 1733.6H1057.6M400 1721H1057.6M400 1708.3H1057.6M400 1695.7H1057.6M400 1683H1057.6M400 1670.3H1057.6M400 1657.7H1057.6M400 1645H1057.6M400 1632.4H1057.6M400 1619.8H1057.6M400 1607.1H1057.6M400 1594.5H1057.6M400 1581.8H1057.6M400 1569.2H1057.6M400 1556.5H1057.6M400 1543.8H1057.6M400 1531.2H1057.6M400 1518.5H1057.6M400 1505.9H1057.6M400 1493.2H1057.6M400 1480.6H1057.6M400 1468H1057.6M400 1455.3H1057.6M400 1442.7H1057.6M400 1430H1057.6M400 1417.3H1057.6M400 1404.7H1057.6M400 1392H1057.6M400 1379.4H1057.6M400 1366.8H1057.6M400 1354.1H1057.6"/>
<rect x="283.7" y="1238" width="890.2" height="890.5" fill="none" stroke="#000" stroke-width="2.6"/>
<path stroke="#000" stroke-width="2.47" d="M349.4 2128.5V2139.5M475.9 2128.5V2139.5M602.3 2128.5V2139.5M728.8 2128.5V2139.5M855.3 2128.5V2139.5M981.7 2128.5V2139.5M1108.2 2128.5V2139.5M283.7 2062.5H272.7M283.7 1936H272.7M283.7 1809.5H272.7M283.7 1683H272.7M283.7 1556.5H272.7M283.7 1430H272.7M283.7 1303.5H272.7"/>
<g font-family="Liberation Sans, Arial, sans-serif" font-size="34.5" letter-spacing="2.2" stroke="#000" stroke-width="0.35">
<text x="303.81" y="2177">−<tspan dx="5.5">300</tspan></text>
<text x="430.28" y="2177">−<tspan dx="5.5">200</tspan></text>
<text x="556.75" y="2177">−<tspan dx="5.5">100</tspan></text>
<text x="718.71" y="2177">0</text>
<text x="823.15" y="2177">100</text>
<text x="950.07" y="2177">200</text>
<text x="1076.75" y="2177">300</text>
<text x="167.84" y="2075.07">−<tspan dx="5.5">300</tspan></text>
<text x="167.84" y="1948.57">−<tspan dx="5.5">200</tspan></text>
<text x="167.84" y="1822.07">−<tspan dx="5.5">100</tspan></text>
<text x="238.46" y="1695.57">0</text>
<text x="195.69" y="1569.07">100</text>
<text x="195.69" y="1442.57">200</text>
<text x="195.69" y="1316.07">300</text>
<text x="683.91" y="2223.2">x (m)</text>
<text transform="translate(148 1684.3) rotate(-90)" x="-42.65">y (m)</text>
</g>
<g font-family="Liberation Serif, Times New Roman, serif" font-size="45.5">
<text x="628.05" y="2228.3" textLength="44.26" lengthAdjust="spacingAndGlyphs">26</text>
</g>
<g font-family="Liberation Serif, Times New Roman, serif" font-size="40">
<text x="337.57" y="2286.8" textLength="433.77" lengthAdjust="spacingAndGlyphs">(c) Slice through model at</text>
<text x="790.74" y="2286.8" textLength="15.38" lengthAdjust="spacingAndGlyphs" font-style="italic">z</text>
<text x="817.03" y="2286.8" textLength="31.39" lengthAdjust="spacingAndGlyphs">=</text>
<text x="858.78" y="2286.8" textLength="27.39" lengthAdjust="spacingAndGlyphs">−</text>
<text x="887.19" y="2286.8" textLength="37.43" lengthAdjust="spacingAndGlyphs">60</text>
<text x="932.26" y="2286.8" textLength="30.96" lengthAdjust="spacingAndGlyphs">m</text>
</g>
</svg>
</body></html>
